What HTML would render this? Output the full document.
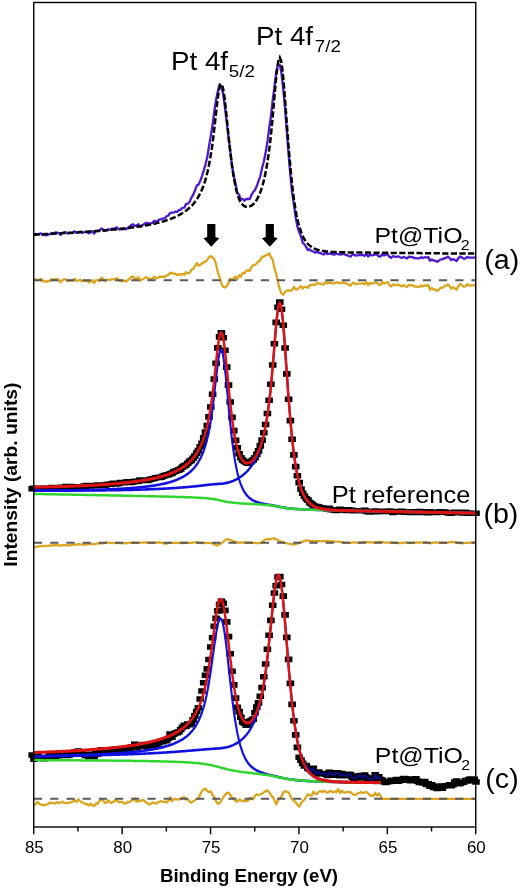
<!DOCTYPE html>
<html lang="en"><head><meta charset="utf-8"><title>Pt 4f XPS spectra</title>
<style>html,body{margin:0;padding:0;background:#fff}body{width:520px;height:889px;overflow:hidden}svg text{white-space:pre}</style>
</head><body>
<svg width="520" height="889" viewBox="0 0 520 889" style="display:block">
<rect width="520" height="889" fill="#fff"/>
<path d="M34.0,234.3 L35.8,234.0 L37.5,234.7 L39.3,233.8 L41.1,233.3 L42.8,235.2 L44.6,234.4 L46.4,235.4 L48.1,234.4 L49.9,234.4 L51.7,232.8 L53.4,233.7 L55.2,232.5 L57.0,232.7 L58.8,233.1 L60.5,235.0 L62.3,233.0 L64.1,232.4 L65.8,232.2 L67.6,233.7 L69.4,232.8 L71.1,233.1 L72.9,232.8 L74.7,231.2 L76.4,233.0 L78.2,232.4 L80.0,231.7 L81.7,232.9 L83.5,232.3 L85.3,232.1 L87.0,232.1 L88.8,233.4 L90.6,232.3 L92.3,231.1 L94.1,233.5 L95.9,230.9 L97.6,231.0 L99.4,231.2 L101.2,228.5 L103.0,229.3 L104.7,231.0 L106.5,229.9 L108.3,229.4 L110.0,229.8 L111.8,228.7 L113.6,229.0 L115.3,228.1 L117.1,227.4 L118.9,229.5 L120.6,228.9 L122.4,229.5 L124.2,228.7 L125.9,229.3 L127.7,228.0 L129.5,226.8 L131.2,225.1 L133.0,224.2 L134.8,226.0 L136.5,225.4 L138.3,224.2 L140.1,226.7 L141.8,225.3 L143.6,224.7 L145.4,223.0 L147.2,223.0 L148.9,223.5 L150.7,223.3 L152.5,222.8 L154.2,220.7 L156.0,221.8 L157.8,220.9 L159.5,219.5 L161.3,219.1 L163.1,218.4 L164.8,218.3 L166.6,216.3 L168.4,215.5 L170.1,213.0 L171.9,212.6 L173.7,212.6 L175.4,211.5 L177.2,212.0 L179.0,210.0 L180.7,209.8 L182.5,207.8 L184.3,207.7 L186.0,204.1 L187.8,203.7 L189.6,201.7 L191.4,197.6 L193.1,195.0 L194.9,190.8 L196.7,185.6 L198.4,184.8 L200.2,181.0 L202.0,176.1 L203.7,170.6 L205.5,164.6 L207.3,156.7 L209.0,146.4 L210.8,135.6 L212.6,124.8 L214.3,111.5 L216.1,99.6 L217.9,91.1 L219.6,84.3 L221.4,86.6 L223.2,94.2 L224.9,107.0 L226.7,122.1 L228.5,137.3 L230.2,150.3 L232.0,165.4 L233.8,176.1 L235.6,183.9 L237.3,192.9 L239.1,194.7 L240.9,199.6 L242.6,198.8 L244.4,200.7 L246.2,199.0 L247.9,198.8 L249.7,199.1 L251.5,194.8 L253.2,192.1 L255.0,190.0 L256.8,186.1 L258.5,181.2 L260.3,176.3 L262.1,167.9 L263.8,161.8 L265.6,152.5 L267.4,142.3 L269.1,128.7 L270.9,116.6 L272.7,100.4 L274.4,87.2 L276.2,72.5 L278.0,64.4 L279.8,64.8 L281.5,73.6 L283.3,89.7 L285.1,108.9 L286.8,131.5 L288.6,154.3 L290.4,175.7 L292.1,192.4 L293.9,204.3 L295.7,217.5 L297.4,226.6 L299.2,232.1 L301.0,236.3 L302.7,242.7 L304.5,244.5 L306.3,247.3 L308.0,250.1 L309.8,249.3 L311.6,251.0 L313.3,251.5 L315.1,252.6 L316.9,251.7 L318.6,252.9 L320.4,252.9 L322.2,254.1 L324.0,254.5 L325.7,252.4 L327.5,254.1 L329.3,253.5 L331.0,253.9 L332.8,254.4 L334.6,254.5 L336.3,253.5 L338.1,254.3 L339.9,254.4 L341.6,254.5 L343.4,253.8 L345.2,254.6 L346.9,255.1 L348.7,256.0 L350.5,256.7 L352.2,254.6 L354.0,254.6 L355.8,255.7 L357.5,255.3 L359.3,255.2 L361.1,255.0 L362.8,254.8 L364.6,255.9 L366.4,254.1 L368.2,256.5 L369.9,254.8 L371.7,255.3 L373.5,255.2 L375.2,254.3 L377.0,254.5 L378.8,256.4 L380.5,256.5 L382.3,254.1 L384.1,255.6 L385.8,254.7 L387.6,254.2 L389.4,256.8 L391.1,257.8 L392.9,256.2 L394.7,256.6 L396.4,256.8 L398.2,256.4 L400.0,257.2 L401.7,257.9 L403.5,256.9 L405.3,257.7 L407.0,258.5 L408.8,256.6 L410.6,257.2 L412.4,256.8 L414.1,258.1 L415.9,258.0 L417.7,258.4 L419.4,258.3 L421.2,257.2 L423.0,258.0 L424.7,257.2 L426.5,257.6 L428.3,257.0 L430.0,260.8 L431.8,259.4 L433.6,260.7 L435.3,260.7 L437.1,261.8 L438.9,260.7 L440.6,259.3 L442.4,259.3 L444.2,258.3 L445.9,258.0 L447.7,256.6 L449.5,257.9 L451.2,260.1 L453.0,258.9 L454.8,260.0 L456.6,261.0 L458.3,258.4 L460.1,256.5 L461.9,257.5 L463.6,258.6 L465.4,258.5 L467.2,256.8 L468.9,257.7 L470.7,257.7 L472.5,257.7 L474.2,257.7 L476.0,257.1" fill="none" stroke="#4f18d0" stroke-width="2.3" stroke-linejoin="round"/>
<path d="M33.6,234.8 L35.1,234.7 L36.5,234.6 L37.9,234.5 L39.3,234.4 L40.7,234.4 L42.1,234.3 L43.5,234.2 L45.0,234.1 L46.4,234.1 L47.8,234.0 L49.2,233.9 L50.6,233.8 L52.0,233.8 L53.4,233.7 L54.9,233.6 L56.3,233.5 L57.7,233.5 L59.1,233.4 L60.5,233.3 L61.9,233.2 L63.3,233.1 L64.8,233.1 L66.2,233.0 L67.6,232.9 L69.0,232.8 L70.4,232.7 L71.8,232.7 L73.2,232.6 L74.7,232.5 L76.1,232.4 L77.5,232.3 L78.9,232.2 L80.3,232.1 L81.7,232.0 L83.2,231.9 L84.6,231.9 L86.0,231.8 L87.4,231.7 L88.8,231.6 L90.2,231.5 L91.6,231.4 L93.1,231.3 L94.5,231.2 L95.9,231.1 L97.3,231.0 L98.7,230.8 L100.1,230.7 L101.5,230.6 L103.0,230.5 L104.4,230.4 L105.8,230.3 L107.2,230.2 L108.6,230.0 L110.0,229.9 L111.4,229.8 L112.9,229.6 L114.3,229.5 L115.7,229.4 L117.1,229.2 L118.5,229.1 L119.9,228.9 L121.3,228.8 L122.8,228.6 L124.2,228.5 L125.6,228.3 L127.0,228.1 L128.4,228.0 L129.8,227.8 L131.2,227.6 L132.7,227.4 L134.1,227.2 L135.5,227.0 L136.9,226.8 L138.3,226.6 L139.7,226.4 L141.1,226.2 L142.6,225.9 L144.0,225.7 L145.4,225.5 L146.8,225.2 L148.2,224.9 L149.6,224.7 L151.0,224.4 L152.5,224.1 L153.9,223.8 L155.3,223.5 L156.7,223.1 L158.1,222.8 L159.5,222.4 L160.9,222.0 L162.4,221.6 L163.8,221.2 L165.2,220.8 L166.6,220.3 L168.0,219.9 L169.4,219.4 L170.8,218.8 L172.3,218.3 L173.7,217.7 L175.1,217.1 L176.5,216.4 L177.9,215.7 L179.3,215.0 L180.7,214.2 L182.2,213.3 L183.6,212.4 L185.0,211.5 L186.4,210.4 L187.8,209.3 L189.2,208.0 L190.6,206.7 L192.1,205.3 L193.5,203.7 L194.9,201.9 L196.3,200.0 L197.7,197.8 L199.1,195.4 L200.5,192.6 L202.0,189.5 L203.4,186.0 L204.8,181.9 L206.2,177.1 L207.6,171.5 L209.0,165.0 L210.4,157.2 L211.9,148.0 L213.3,137.3 L214.7,125.2 L216.1,112.5 L217.5,100.3 L218.9,90.4 L220.3,84.7 L221.8,84.2 L223.2,89.0 L224.6,98.3 L226.0,110.7 L227.4,124.5 L228.8,138.4 L230.2,151.5 L231.7,163.2 L233.1,173.2 L234.5,181.6 L235.9,188.4 L237.3,193.8 L238.7,198.0 L240.1,201.2 L241.6,203.5 L243.0,205.1 L244.4,206.1 L245.8,206.7 L247.2,206.9 L248.6,206.7 L250.0,206.3 L251.5,205.6 L252.9,204.6 L254.3,203.2 L255.7,201.3 L257.1,199.1 L258.5,196.4 L260.0,193.1 L261.4,189.2 L262.8,184.5 L264.2,179.1 L265.6,172.6 L267.0,164.8 L268.4,155.6 L269.9,144.6 L271.3,131.7 L272.7,117.0 L274.1,100.9 L275.5,84.8 L276.9,70.7 L278.3,61.0 L279.8,57.5 L281.2,61.1 L282.6,71.2 L284.0,86.2 L285.4,104.2 L286.8,123.3 L288.2,141.9 L289.7,159.2 L291.1,174.6 L292.5,187.8 L293.9,198.9 L295.3,208.2 L296.7,215.9 L298.1,222.3 L299.6,227.5 L301.0,231.7 L302.4,235.2 L303.8,238.1 L305.2,240.5 L306.6,242.4 L308.0,244.1 L309.5,245.4 L310.9,246.5 L312.3,247.5 L313.7,248.3 L315.1,248.9 L316.5,249.5 L317.9,249.9 L319.4,250.3 L320.8,250.6 L322.2,250.9 L323.6,251.1 L325.0,251.3 L326.4,251.5 L327.8,251.6 L329.3,251.7 L330.7,251.8 L332.1,251.9 L333.5,252.0 L334.9,252.0 L336.3,252.1 L337.7,252.2 L339.2,252.2 L340.6,252.2 L342.0,252.3 L343.4,252.3 L344.8,252.3 L346.2,252.4 L347.6,252.4 L349.1,252.4 L350.5,252.4 L351.9,252.4 L353.3,252.5 L354.7,252.5 L356.1,252.5 L357.5,252.5 L359.0,252.5 L360.4,252.5 L361.8,252.6 L363.2,252.6 L364.6,252.6 L366.0,252.6 L367.4,252.6 L368.9,252.6 L370.3,252.7 L371.7,252.7 L373.1,252.7 L374.5,252.7 L375.9,252.7 L377.3,252.7 L378.8,252.7 L380.2,252.8 L381.6,252.8 L383.0,252.8 L384.4,252.8 L385.8,252.8 L387.2,252.8 L388.7,252.8 L390.1,252.9 L391.5,252.9 L392.9,252.9 L394.3,252.9 L395.7,252.9 L397.1,252.9 L398.6,252.9 L400.0,253.0 L401.4,253.0 L402.8,253.0 L404.2,253.0 L405.6,253.0 L407.0,253.0 L408.5,253.0 L409.9,253.1 L411.3,253.1 L412.7,253.1 L414.1,253.1 L415.5,253.1 L416.9,253.1 L418.4,253.1 L419.8,253.1 L421.2,253.2 L422.6,253.2 L424.0,253.2 L425.4,253.2 L426.8,253.2 L428.3,253.2 L429.7,253.2 L431.1,253.3 L432.5,253.3 L433.9,253.3 L435.3,253.3 L436.8,253.3 L438.2,253.3 L439.6,253.3 L441.0,253.3 L442.4,253.4 L443.8,253.4 L445.2,253.4 L446.7,253.4 L448.1,253.4 L449.5,253.4 L450.9,253.4 L452.3,253.4 L453.7,253.5 L455.1,253.5 L456.6,253.5 L458.0,253.5 L459.4,253.5 L460.8,253.5 L462.2,253.5 L463.6,253.6 L465.0,253.6 L466.5,253.6 L467.9,253.6 L469.3,253.6 L470.7,253.6 L472.1,253.6 L473.5,253.6 L474.9,253.7 L476.4,253.7" fill="none" stroke="#000" stroke-width="2.5" stroke-dasharray="6.2 2.4"/>
<path d="M34.0,279.7 L35.8,279.5 L37.5,280.4 L39.3,279.5 L41.1,278.9 L42.8,281.5 L44.6,280.6 L46.4,282.0 L48.1,280.9 L49.9,281.0 L51.7,279.0 L53.4,280.3 L55.2,278.9 L57.0,279.4 L58.8,279.9 L60.5,282.4 L62.3,280.1 L64.1,279.4 L65.8,279.3 L67.6,281.3 L69.4,280.3 L71.1,280.8 L72.9,280.6 L74.7,278.7 L76.4,281.0 L78.2,280.5 L80.0,279.7 L81.7,281.3 L83.5,280.8 L85.3,280.6 L87.0,280.8 L88.8,282.5 L90.6,281.4 L92.3,280.1 L94.1,283.1 L95.9,280.1 L97.6,280.4 L99.4,280.8 L101.2,277.6 L103.0,278.8 L104.7,281.1 L106.5,279.9 L108.3,279.5 L110.0,280.2 L111.8,279.0 L113.6,279.5 L115.3,278.7 L117.1,278.0 L118.9,280.8 L120.6,280.3 L122.4,281.3 L124.2,280.6 L125.9,281.6 L127.7,280.2 L129.5,279.0 L131.2,277.1 L133.0,276.3 L134.8,278.9 L136.5,278.4 L138.3,277.3 L140.1,280.8 L141.8,279.4 L143.6,279.0 L145.4,277.3 L147.2,277.6 L148.9,278.7 L150.7,278.8 L152.5,278.7 L154.2,276.6 L156.0,278.4 L157.8,277.8 L159.5,276.7 L161.3,276.8 L163.1,276.5 L164.8,277.1 L166.6,275.3 L168.4,275.0 L170.1,272.7 L171.9,273.0 L173.7,273.9 L175.4,273.6 L177.2,275.2 L179.0,273.9 L180.7,274.9 L182.5,273.7 L184.3,274.9 L186.0,272.1 L187.8,273.4 L189.6,272.8 L191.4,269.8 L193.1,269.0 L194.9,266.4 L196.7,263.0 L198.4,265.6 L200.2,264.9 L202.0,263.5 L203.7,262.3 L205.5,261.6 L207.3,259.9 L209.0,257.0 L210.8,256.1 L212.6,257.7 L214.3,259.2 L216.1,264.3 L217.9,272.3 L219.6,277.0 L221.4,283.8 L223.2,286.8 L224.9,287.5 L226.7,286.1 L228.5,283.2 L230.2,278.8 L232.0,279.8 L233.8,278.4 L235.6,276.6 L237.3,279.2 L239.1,275.1 L240.9,276.8 L242.6,272.9 L244.4,273.5 L246.2,270.7 L247.9,270.3 L249.7,271.1 L251.5,266.8 L253.2,265.1 L255.0,265.0 L256.8,263.3 L258.5,261.3 L260.3,260.4 L262.1,256.5 L263.8,256.9 L265.6,255.3 L267.4,254.8 L269.1,253.3 L270.9,257.2 L272.7,259.6 L274.4,268.2 L276.2,274.1 L278.0,282.2 L279.8,289.4 L281.5,293.4 L283.3,294.7 L285.1,292.0 L286.8,290.6 L288.6,290.2 L290.4,291.0 L292.1,290.0 L293.9,287.0 L295.7,289.3 L297.4,289.5 L299.2,287.7 L301.0,286.1 L302.7,288.6 L304.5,286.8 L306.3,286.9 L308.0,287.8 L309.8,284.8 L311.6,285.2 L313.3,284.6 L315.1,284.9 L316.9,283.0 L318.6,283.8 L320.4,283.3 L322.2,284.4 L324.0,284.5 L325.7,281.6 L327.5,283.5 L329.3,282.5 L331.0,282.8 L332.8,283.3 L334.6,283.4 L336.3,282.1 L338.1,283.0 L339.9,283.0 L341.6,283.1 L343.4,282.2 L345.2,283.1 L346.9,283.7 L348.7,284.8 L350.5,285.7 L352.2,283.0 L354.0,283.0 L355.8,284.4 L357.5,283.7 L359.3,283.6 L361.1,283.4 L362.8,283.1 L364.6,284.4 L366.4,282.1 L368.2,285.1 L369.9,282.9 L371.7,283.6 L373.5,283.4 L375.2,282.3 L377.0,282.5 L378.8,284.9 L380.5,285.0 L382.3,281.9 L384.1,283.8 L385.8,282.7 L387.6,282.0 L389.4,285.3 L391.1,286.5 L392.9,284.4 L394.7,284.9 L396.4,285.2 L398.2,284.7 L400.0,285.6 L401.7,286.4 L403.5,285.1 L405.3,286.2 L407.0,287.1 L408.8,284.8 L410.6,285.5 L412.4,284.9 L414.1,286.6 L415.9,286.4 L417.7,286.9 L419.4,286.8 L421.2,285.4 L423.0,286.4 L424.7,285.3 L426.5,285.8 L428.3,285.0 L430.0,289.8 L431.8,288.0 L433.6,289.6 L435.3,289.5 L437.1,290.9 L438.9,289.6 L440.6,287.8 L442.4,287.8 L444.2,286.4 L445.9,286.0 L447.7,284.3 L449.5,285.9 L451.2,288.6 L453.0,287.1 L454.8,288.5 L456.6,289.7 L458.3,286.4 L460.1,284.0 L461.9,285.2 L463.6,286.6 L465.4,286.4 L467.2,284.3 L468.9,285.4 L470.7,285.5 L472.5,285.4 L474.2,285.3 L476.0,284.6" fill="none" stroke="#dba520" stroke-width="2.3" stroke-linejoin="round"/>
<path d="M34,280.3 H476" fill="none" stroke="#595959" stroke-width="2" stroke-dasharray="8.2 8"/>
<path d="M207.20000000000002,224.0 H215.4 V237.0 L219.20000000000002,238.2 L211.3,246.8 L203.4,238.2 L207.20000000000002,237.0 Z" fill="#000"/>
<path d="M265.7,224.0 H273.90000000000003 V237.0 L277.7,238.2 L269.8,246.8 L261.90000000000003,238.2 L265.7,237.0 Z" fill="#000"/>
<path d="M28.4,486.0h7.6v5.6h-7.6zM30.2,485.4h7.6v5.6h-7.6zM32.0,486.0h7.6v5.6h-7.6zM33.7,485.9h7.6v5.6h-7.6zM35.5,485.9h7.6v5.6h-7.6zM37.3,485.8h7.6v5.6h-7.6zM39.0,485.4h7.6v5.6h-7.6zM40.8,485.5h7.6v5.6h-7.6zM42.6,485.7h7.6v5.6h-7.6zM44.3,485.6h7.6v5.6h-7.6zM46.1,485.4h7.6v5.6h-7.6zM47.9,484.8h7.6v5.6h-7.6zM49.6,485.4h7.6v5.6h-7.6zM51.4,485.6h7.6v5.6h-7.6zM53.2,485.5h7.6v5.6h-7.6zM55.0,485.1h7.6v5.6h-7.6zM56.7,484.4h7.6v5.6h-7.6zM58.5,485.1h7.6v5.6h-7.6zM60.3,484.6h7.6v5.6h-7.6zM62.0,483.8h7.6v5.6h-7.6zM63.8,484.5h7.6v5.6h-7.6zM65.6,483.9h7.6v5.6h-7.6zM67.3,483.8h7.6v5.6h-7.6zM69.1,484.0h7.6v5.6h-7.6zM70.9,484.5h7.6v5.6h-7.6zM72.6,483.9h7.6v5.6h-7.6zM74.4,484.0h7.6v5.6h-7.6zM76.2,484.5h7.6v5.6h-7.6zM77.9,484.3h7.6v5.6h-7.6zM79.7,483.6h7.6v5.6h-7.6zM81.5,483.3h7.6v5.6h-7.6zM83.2,482.8h7.6v5.6h-7.6zM85.0,482.9h7.6v5.6h-7.6zM86.8,483.1h7.6v5.6h-7.6zM88.5,483.0h7.6v5.6h-7.6zM90.3,482.8h7.6v5.6h-7.6zM92.1,482.9h7.6v5.6h-7.6zM93.8,482.2h7.6v5.6h-7.6zM95.6,482.2h7.6v5.6h-7.6zM97.4,482.4h7.6v5.6h-7.6zM99.2,482.3h7.6v5.6h-7.6zM100.9,482.3h7.6v5.6h-7.6zM102.7,481.9h7.6v5.6h-7.6zM104.5,481.5h7.6v5.6h-7.6zM106.2,481.5h7.6v5.6h-7.6zM108.0,480.9h7.6v5.6h-7.6zM109.8,480.5h7.6v5.6h-7.6zM111.5,481.1h7.6v5.6h-7.6zM113.3,480.8h7.6v5.6h-7.6zM115.1,480.6h7.6v5.6h-7.6zM116.8,479.8h7.6v5.6h-7.6zM118.6,480.0h7.6v5.6h-7.6zM120.4,479.8h7.6v5.6h-7.6zM122.1,479.5h7.6v5.6h-7.6zM123.9,478.9h7.6v5.6h-7.6zM125.7,479.3h7.6v5.6h-7.6zM127.4,479.6h7.6v5.6h-7.6zM129.2,479.2h7.6v5.6h-7.6zM131.0,478.6h7.6v5.6h-7.6zM132.7,478.6h7.6v5.6h-7.6zM134.5,478.5h7.6v5.6h-7.6zM136.3,477.2h7.6v5.6h-7.6zM138.0,477.7h7.6v5.6h-7.6zM139.8,477.7h7.6v5.6h-7.6zM141.6,477.6h7.6v5.6h-7.6zM143.4,477.6h7.6v5.6h-7.6zM145.1,477.1h7.6v5.6h-7.6zM146.9,476.4h7.6v5.6h-7.6zM148.7,476.0h7.6v5.6h-7.6zM150.4,475.7h7.6v5.6h-7.6zM152.2,474.9h7.6v5.6h-7.6zM154.0,474.7h7.6v5.6h-7.6zM155.7,474.6h7.6v5.6h-7.6zM157.5,474.4h7.6v5.6h-7.6zM159.3,473.3h7.6v5.6h-7.6zM161.0,472.7h7.6v5.6h-7.6zM162.8,472.2h7.6v5.6h-7.6zM164.6,472.0h7.6v5.6h-7.6zM166.3,471.0h7.6v5.6h-7.6zM168.1,470.6h7.6v5.6h-7.6zM169.9,469.1h7.6v5.6h-7.6zM171.6,468.5h7.6v5.6h-7.6zM173.4,467.7h7.6v5.6h-7.6zM175.2,467.1h7.6v5.6h-7.6zM176.9,466.1h7.6v5.6h-7.6zM178.7,464.2h7.6v5.6h-7.6zM180.5,463.1h7.6v5.6h-7.6zM182.2,462.2h7.6v5.6h-7.6zM184.0,460.4h7.6v5.6h-7.6zM185.8,458.6h7.6v5.6h-7.6zM187.6,457.6h7.6v5.6h-7.6zM189.3,455.5h7.6v5.6h-7.6zM191.1,453.2h7.6v5.6h-7.6zM192.9,450.3h7.6v5.6h-7.6zM194.6,447.8h7.6v5.6h-7.6zM196.4,444.0h7.6v5.6h-7.6zM198.2,440.4h7.6v5.6h-7.6zM199.9,435.0h7.6v5.6h-7.6zM201.7,429.3h7.6v5.6h-7.6zM203.5,422.8h7.6v5.6h-7.6zM205.2,414.1h7.6v5.6h-7.6zM207.0,404.2h7.6v5.6h-7.6zM208.8,391.4h7.6v5.6h-7.6zM210.5,376.3h7.6v5.6h-7.6zM212.3,360.4h7.6v5.6h-7.6zM214.1,345.1h7.6v5.6h-7.6zM215.8,334.1h7.6v5.6h-7.6zM217.6,329.9h7.6v5.6h-7.6zM219.4,334.9h7.6v5.6h-7.6zM221.1,347.5h7.6v5.6h-7.6zM222.9,364.3h7.6v5.6h-7.6zM224.7,382.3h7.6v5.6h-7.6zM226.4,399.2h7.6v5.6h-7.6zM228.2,414.6h7.6v5.6h-7.6zM230.0,427.8h7.6v5.6h-7.6zM231.8,437.4h7.6v5.6h-7.6zM233.5,444.9h7.6v5.6h-7.6zM235.3,450.9h7.6v5.6h-7.6zM237.1,455.0h7.6v5.6h-7.6zM238.8,457.3h7.6v5.6h-7.6zM240.6,458.7h7.6v5.6h-7.6zM242.4,459.7h7.6v5.6h-7.6zM244.1,460.5h7.6v5.6h-7.6zM245.9,459.6h7.6v5.6h-7.6zM247.7,458.6h7.6v5.6h-7.6zM249.4,457.1h7.6v5.6h-7.6zM251.2,454.9h7.6v5.6h-7.6zM253.0,451.6h7.6v5.6h-7.6zM254.7,448.1h7.6v5.6h-7.6zM256.5,443.1h7.6v5.6h-7.6zM258.3,437.3h7.6v5.6h-7.6zM260.0,429.9h7.6v5.6h-7.6zM261.8,421.7h7.6v5.6h-7.6zM263.6,410.7h7.6v5.6h-7.6zM265.3,397.4h7.6v5.6h-7.6zM267.1,381.4h7.6v5.6h-7.6zM268.9,362.2h7.6v5.6h-7.6zM270.6,340.9h7.6v5.6h-7.6zM272.4,319.6h7.6v5.6h-7.6zM274.2,304.4h7.6v5.6h-7.6zM276.0,299.3h7.6v5.6h-7.6zM277.7,306.5h7.6v5.6h-7.6zM279.5,322.5h7.6v5.6h-7.6zM281.3,345.2h7.6v5.6h-7.6zM283.0,371.1h7.6v5.6h-7.6zM284.8,396.4h7.6v5.6h-7.6zM286.6,417.8h7.6v5.6h-7.6zM288.3,436.4h7.6v5.6h-7.6zM290.1,452.1h7.6v5.6h-7.6zM291.9,463.8h7.6v5.6h-7.6zM293.6,473.0h7.6v5.6h-7.6zM295.4,479.8h7.6v5.6h-7.6zM297.2,486.2h7.6v5.6h-7.6zM298.9,490.5h7.6v5.6h-7.6zM300.7,493.5h7.6v5.6h-7.6zM302.5,495.9h7.6v5.6h-7.6zM304.2,497.3h7.6v5.6h-7.6zM306.0,499.8h7.6v5.6h-7.6zM307.8,501.1h7.6v5.6h-7.6zM309.5,502.4h7.6v5.6h-7.6zM311.3,503.4h7.6v5.6h-7.6zM313.1,503.7h7.6v5.6h-7.6zM314.8,503.9h7.6v5.6h-7.6zM316.6,505.0h7.6v5.6h-7.6zM318.4,505.1h7.6v5.6h-7.6zM320.2,505.5h7.6v5.6h-7.6zM321.9,505.7h7.6v5.6h-7.6zM323.7,505.9h7.6v5.6h-7.6zM325.5,505.6h7.6v5.6h-7.6zM327.2,506.9h7.6v5.6h-7.6zM329.0,506.9h7.6v5.6h-7.6zM330.8,507.4h7.6v5.6h-7.6zM332.5,507.7h7.6v5.6h-7.6zM334.3,507.2h7.6v5.6h-7.6zM336.1,506.6h7.6v5.6h-7.6zM337.8,506.9h7.6v5.6h-7.6zM339.6,507.0h7.6v5.6h-7.6zM341.4,507.3h7.6v5.6h-7.6zM343.1,507.6h7.6v5.6h-7.6zM344.9,507.0h7.6v5.6h-7.6zM346.7,507.7h7.6v5.6h-7.6zM348.4,507.4h7.6v5.6h-7.6zM350.2,507.9h7.6v5.6h-7.6zM352.0,507.9h7.6v5.6h-7.6zM353.7,507.9h7.6v5.6h-7.6zM355.5,508.0h7.6v5.6h-7.6zM357.3,507.9h7.6v5.6h-7.6zM359.0,507.9h7.6v5.6h-7.6zM360.8,507.6h7.6v5.6h-7.6zM362.6,508.3h7.6v5.6h-7.6zM364.4,509.0h7.6v5.6h-7.6zM366.1,509.2h7.6v5.6h-7.6zM367.9,509.0h7.6v5.6h-7.6zM369.7,508.7h7.6v5.6h-7.6zM371.4,508.3h7.6v5.6h-7.6zM373.2,508.9h7.6v5.6h-7.6zM375.0,508.6h7.6v5.6h-7.6zM376.7,508.5h7.6v5.6h-7.6zM378.5,508.5h7.6v5.6h-7.6zM380.3,508.6h7.6v5.6h-7.6zM382.0,508.5h7.6v5.6h-7.6zM383.8,508.6h7.6v5.6h-7.6zM385.6,508.3h7.6v5.6h-7.6zM387.3,508.7h7.6v5.6h-7.6zM389.1,509.6h7.6v5.6h-7.6zM390.9,508.9h7.6v5.6h-7.6zM392.6,508.8h7.6v5.6h-7.6zM394.4,509.1h7.6v5.6h-7.6zM396.2,509.1h7.6v5.6h-7.6zM397.9,508.6h7.6v5.6h-7.6zM399.7,508.9h7.6v5.6h-7.6zM401.5,509.4h7.6v5.6h-7.6zM403.2,509.2h7.6v5.6h-7.6zM405.0,509.2h7.6v5.6h-7.6zM406.8,509.6h7.6v5.6h-7.6zM408.6,509.0h7.6v5.6h-7.6zM410.3,509.2h7.6v5.6h-7.6zM412.1,509.1h7.6v5.6h-7.6zM413.9,509.7h7.6v5.6h-7.6zM415.6,508.7h7.6v5.6h-7.6zM417.4,509.0h7.6v5.6h-7.6zM419.2,509.2h7.6v5.6h-7.6zM420.9,509.6h7.6v5.6h-7.6zM422.7,509.7h7.6v5.6h-7.6zM424.5,509.9h7.6v5.6h-7.6zM426.2,509.1h7.6v5.6h-7.6zM428.0,509.7h7.6v5.6h-7.6zM429.8,509.5h7.6v5.6h-7.6zM431.5,509.4h7.6v5.6h-7.6zM433.3,509.7h7.6v5.6h-7.6zM435.1,509.3h7.6v5.6h-7.6zM436.8,508.9h7.6v5.6h-7.6zM438.6,509.4h7.6v5.6h-7.6zM440.4,509.2h7.6v5.6h-7.6zM442.1,509.5h7.6v5.6h-7.6zM443.9,509.9h7.6v5.6h-7.6zM445.7,510.1h7.6v5.6h-7.6zM447.4,510.4h7.6v5.6h-7.6zM449.2,509.9h7.6v5.6h-7.6zM451.0,509.4h7.6v5.6h-7.6zM452.8,509.6h7.6v5.6h-7.6zM454.5,509.6h7.6v5.6h-7.6zM456.3,509.6h7.6v5.6h-7.6zM458.1,510.2h7.6v5.6h-7.6zM459.8,509.8h7.6v5.6h-7.6zM461.6,509.5h7.6v5.6h-7.6zM463.4,510.3h7.6v5.6h-7.6zM465.1,510.2h7.6v5.6h-7.6zM466.9,510.4h7.6v5.6h-7.6zM468.7,510.4h7.6v5.6h-7.6zM470.4,510.5h7.6v5.6h-7.6zM472.2,510.5h7.6v5.6h-7.6z" fill="#000"/>
<g transform="scale(1,1.25)" fill="none" stroke-linejoin="round">
<path d="M33.6,392.45 L34.7,392.45 L35.8,392.45 L36.8,392.45 L37.9,392.46 L39.0,392.46 L40.0,392.46 L41.1,392.46 L42.1,392.46 L43.2,392.47 L44.3,392.47 L45.3,392.47 L46.4,392.47 L47.4,392.47 L48.5,392.47 L49.6,392.47 L50.6,392.47 L51.7,392.47 L52.7,392.47 L53.8,392.47 L54.9,392.47 L55.9,392.47 L57.0,392.47 L58.0,392.47 L59.1,392.47 L60.2,392.47 L61.2,392.47 L62.3,392.47 L63.3,392.47 L64.4,392.47 L65.5,392.46 L66.5,392.46 L67.6,392.46 L68.7,392.46 L69.7,392.46 L70.8,392.45 L71.8,392.45 L72.9,392.45 L74.0,392.45 L75.0,392.44 L76.1,392.44 L77.1,392.44 L78.2,392.43 L79.3,392.43 L80.3,392.42 L81.4,392.42 L82.4,392.41 L83.5,392.41 L84.6,392.40 L85.6,392.40 L86.7,392.39 L87.7,392.39 L88.8,392.38 L89.9,392.37 L90.9,392.37 L92.0,392.36 L93.1,392.35 L94.1,392.35 L95.2,392.34 L96.2,392.33 L97.3,392.32 L98.4,392.31 L99.4,392.31 L100.5,392.30 L101.5,392.29 L102.6,392.28 L103.7,392.27 L104.7,392.26 L105.8,392.25 L106.8,392.24 L107.9,392.22 L109.0,392.21 L110.0,392.20 L111.1,392.19 L112.1,392.18 L113.2,392.16 L114.3,392.15 L115.3,392.14 L116.4,392.12 L117.4,392.11 L118.5,392.09 L119.6,392.08 L120.6,392.06 L121.7,392.04 L122.8,392.03 L123.8,392.01 L124.9,391.99 L125.9,391.98 L127.0,391.96 L128.1,391.94 L129.1,391.92 L130.2,391.90 L131.2,391.88 L132.3,391.86 L133.4,391.84 L134.4,391.81 L135.5,391.79 L136.5,391.77 L137.6,391.74 L138.7,391.72 L139.7,391.70 L140.8,391.67 L141.8,391.64 L142.9,391.62 L144.0,391.59 L145.0,391.56 L146.1,391.53 L147.2,391.50 L148.2,391.47 L149.3,391.44 L150.3,391.41 L151.4,391.38 L152.5,391.34 L153.5,391.31 L154.6,391.27 L155.6,391.24 L156.7,391.20 L157.8,391.16 L158.8,391.12 L159.9,391.08 L160.9,391.04 L162.0,391.00 L163.1,390.96 L164.1,390.92 L165.2,390.87 L166.2,390.83 L167.3,390.78 L168.4,390.73 L169.4,390.68 L170.5,390.63 L171.6,390.58 L172.6,390.53 L173.7,390.47 L174.7,390.42 L175.8,390.36 L176.9,390.30 L177.9,390.24 L179.0,390.18 L180.0,390.12 L181.1,390.05 L182.2,389.99 L183.2,389.92 L184.3,389.85 L185.3,389.78 L186.4,389.71 L187.5,389.63 L188.5,389.56 L189.6,389.48 L190.6,389.40 L191.7,389.32 L192.8,389.24 L193.8,389.16 L194.9,389.07 L195.9,388.98 L197.0,388.89 L198.1,388.80 L199.1,388.71 L200.2,388.61 L201.3,388.52 L202.3,388.42 L203.4,388.33 L204.4,388.23 L205.5,388.13 L206.6,388.03 L207.6,387.93 L208.7,387.84 L209.7,387.74 L210.8,387.65 L211.9,387.56 L212.9,387.48 L214.0,387.40 L215.0,387.33 L216.1,387.26 L217.2,387.20 L218.2,387.14 L219.3,387.08 L220.3,387.02 L221.4,386.95 L222.5,386.87 L223.5,386.77 L224.6,386.65 L225.7,386.50 L226.7,386.33 L227.8,386.13 L228.8,385.90 L229.9,385.64 L231.0,385.36 L232.0,385.05 L233.1,384.71 L234.1,384.35 L235.2,383.95 L236.3,383.53 L237.3,383.07 L238.4,382.58 L239.4,382.06 L240.5,381.50 L241.6,380.91 L242.6,380.27 L243.7,379.59 L244.7,378.86 L245.8,378.08 L246.9,377.25 L247.9,376.35 L249.0,375.39 L250.0,374.35 L251.1,373.22 L252.2,372.01 L253.2,370.69 L254.3,369.27 L255.4,367.71 L256.4,366.00 L257.5,364.14 L258.5,362.08 L259.6,359.82 L260.7,357.30 L261.7,354.51 L262.8,351.38 L263.8,347.87 L264.9,343.92 L266.0,339.45 L267.0,334.37 L268.1,328.58 L269.1,322.00 L270.2,314.54 L271.3,306.13 L272.3,296.82 L273.4,286.76 L274.4,276.29 L275.5,265.99 L276.6,256.63 L277.6,249.08 L278.7,244.17 L279.8,242.47 L280.8,244.21 L281.9,249.23 L282.9,257.06 L284.0,267.04 L285.1,278.44 L286.1,290.55 L287.2,302.78 L288.2,314.64 L289.3,325.80 L290.4,336.05 L291.4,345.30 L292.5,353.52 L293.5,360.77 L294.6,367.09 L295.7,372.59 L296.7,377.35 L297.8,381.46 L298.8,385.01 L299.9,388.07 L301.0,390.71 L302.0,392.99 L303.1,394.96 L304.2,396.67 L305.2,398.15 L306.3,399.43 L307.3,400.54 L308.4,401.51 L309.5,402.35 L310.5,403.09 L311.6,403.73 L312.6,404.29 L313.7,404.78 L314.8,405.21 L315.8,405.59 L316.9,405.92 L317.9,406.21 L319.0,406.46 L320.1,406.69 L321.1,406.89 L322.2,407.06 L323.2,407.22 L324.3,407.36 L325.4,407.48 L326.4,407.59 L327.5,407.68 L328.5,407.77 L329.6,407.85 L330.7,407.92 L331.7,407.98 L332.8,408.04 L333.9,408.09 L334.9,408.14 L336.0,408.18 L337.0,408.22 L338.1,408.26 L339.2,408.29 L340.2,408.33 L341.3,408.36 L342.3,408.38 L343.4,408.41 L344.5,408.44 L345.5,408.46 L346.6,408.49 L347.6,408.51 L348.7,408.53 L349.8,408.55 L350.8,408.57 L351.9,408.59 L352.9,408.62 L354.0,408.63 L355.1,408.65 L356.1,408.67 L357.2,408.69 L358.3,408.71 L359.3,408.73 L360.4,408.75 L361.4,408.77 L362.5,408.78 L363.6,408.80 L364.6,408.82 L365.7,408.84 L366.7,408.86 L367.8,408.87 L368.9,408.89 L369.9,408.91 L371.0,408.93 L372.0,408.94 L373.1,408.96 L374.2,408.98 L375.2,408.99 L376.3,409.01 L377.3,409.03 L378.4,409.05 L379.5,409.06 L380.5,409.08 L381.6,409.10 L382.6,409.11 L383.7,409.13 L384.8,409.15 L385.8,409.16 L386.9,409.18 L388.0,409.20 L389.0,409.21 L390.1,409.23 L391.1,409.25 L392.2,409.26 L393.3,409.28 L394.3,409.30 L395.4,409.31 L396.4,409.33 L397.5,409.35 L398.6,409.36 L399.6,409.38 L400.7,409.39 L401.7,409.41 L402.8,409.43 L403.9,409.44 L404.9,409.46 L406.0,409.48 L407.0,409.49 L408.1,409.51 L409.2,409.53 L410.2,409.54 L411.3,409.56 L412.4,409.57 L413.4,409.59 L414.5,409.61 L415.5,409.62 L416.6,409.64 L417.7,409.65 L418.7,409.67 L419.8,409.69 L420.8,409.70 L421.9,409.72 L423.0,409.73 L424.0,409.75 L425.1,409.77 L426.1,409.78 L427.2,409.80 L428.3,409.81 L429.3,409.83 L430.4,409.85 L431.4,409.86 L432.5,409.88 L433.6,409.89 L434.6,409.91 L435.7,409.93 L436.8,409.94 L437.8,409.96 L438.9,409.97 L439.9,409.99 L441.0,410.00 L442.1,410.02 L443.1,410.04 L444.2,410.05 L445.2,410.07 L446.3,410.08 L447.4,410.10 L448.4,410.11 L449.5,410.13 L450.5,410.15 L451.6,410.16 L452.7,410.18 L453.7,410.19 L454.8,410.21 L455.8,410.22 L456.9,410.24 L458.0,410.26 L459.0,410.27 L460.1,410.29 L461.1,410.30 L462.2,410.32 L463.3,410.33 L464.3,410.35 L465.4,410.37 L466.5,410.38 L467.5,410.40 L468.6,410.41 L469.6,410.43 L470.7,410.44 L471.8,410.46 L472.8,410.47 L473.9,410.49 L474.9,410.51 L476.0,410.52" stroke="#1010e0" stroke-width="2.1"/>
<path d="M33.6,392.43 L34.7,392.43 L35.8,392.43 L36.8,392.43 L37.9,392.42 L39.0,392.42 L40.0,392.42 L41.1,392.41 L42.1,392.41 L43.2,392.41 L44.3,392.40 L45.3,392.40 L46.4,392.40 L47.4,392.39 L48.5,392.39 L49.6,392.38 L50.6,392.38 L51.7,392.37 L52.7,392.36 L53.8,392.36 L54.9,392.35 L55.9,392.35 L57.0,392.34 L58.0,392.33 L59.1,392.32 L60.2,392.32 L61.2,392.31 L62.3,392.30 L63.3,392.29 L64.4,392.28 L65.5,392.27 L66.5,392.26 L67.6,392.25 L68.7,392.24 L69.7,392.23 L70.8,392.22 L71.8,392.21 L72.9,392.19 L74.0,392.18 L75.0,392.17 L76.1,392.15 L77.1,392.14 L78.2,392.13 L79.3,392.11 L80.3,392.10 L81.4,392.08 L82.4,392.06 L83.5,392.05 L84.6,392.03 L85.6,392.01 L86.7,391.99 L87.7,391.97 L88.8,391.95 L89.9,391.93 L90.9,391.91 L92.0,391.89 L93.1,391.87 L94.1,391.85 L95.2,391.82 L96.2,391.80 L97.3,391.77 L98.4,391.75 L99.4,391.72 L100.5,391.69 L101.5,391.67 L102.6,391.64 L103.7,391.61 L104.7,391.58 L105.8,391.54 L106.8,391.51 L107.9,391.48 L109.0,391.45 L110.0,391.41 L111.1,391.37 L112.1,391.34 L113.2,391.30 L114.3,391.26 L115.3,391.22 L116.4,391.18 L117.4,391.13 L118.5,391.09 L119.6,391.04 L120.6,390.99 L121.7,390.95 L122.8,390.90 L123.8,390.84 L124.9,390.79 L125.9,390.74 L127.0,390.68 L128.1,390.62 L129.1,390.56 L130.2,390.50 L131.2,390.44 L132.3,390.37 L133.4,390.30 L134.4,390.23 L135.5,390.16 L136.5,390.09 L137.6,390.01 L138.7,389.93 L139.7,389.85 L140.8,389.76 L141.8,389.68 L142.9,389.59 L144.0,389.49 L145.0,389.40 L146.1,389.29 L147.2,389.19 L148.2,389.08 L149.3,388.97 L150.3,388.86 L151.4,388.74 L152.5,388.61 L153.5,388.49 L154.6,388.35 L155.6,388.21 L156.7,388.07 L157.8,387.92 L158.8,387.77 L159.9,387.60 L160.9,387.44 L162.0,387.26 L163.1,387.08 L164.1,386.89 L165.2,386.69 L166.2,386.48 L167.3,386.27 L168.4,386.04 L169.4,385.80 L170.5,385.55 L171.6,385.29 L172.6,385.02 L173.7,384.74 L174.7,384.44 L175.8,384.12 L176.9,383.79 L177.9,383.44 L179.0,383.07 L180.0,382.68 L181.1,382.26 L182.2,381.83 L183.2,381.36 L184.3,380.87 L185.3,380.34 L186.4,379.79 L187.5,379.19 L188.5,378.55 L189.6,377.87 L190.6,377.14 L191.7,376.35 L192.8,375.50 L193.8,374.58 L194.9,373.59 L195.9,372.51 L197.0,371.33 L198.1,370.04 L199.1,368.63 L200.2,367.07 L201.3,365.35 L202.3,363.45 L203.4,361.32 L204.4,358.95 L205.5,356.28 L206.6,353.27 L207.6,349.85 L208.7,345.98 L209.7,341.56 L210.8,336.54 L211.9,330.85 L212.9,324.46 L214.0,317.44 L215.0,309.91 L216.1,302.20 L217.2,294.76 L218.2,288.20 L219.3,283.18 L220.3,280.25 L221.4,279.79 L222.5,281.86 L223.5,286.29 L224.6,292.66 L225.7,300.47 L226.7,309.18 L227.8,318.28 L228.8,327.34 L229.9,336.05 L231.0,344.18 L232.0,351.61 L233.1,358.28 L234.1,364.20 L235.2,369.40 L236.3,373.94 L237.3,377.87 L238.4,381.28 L239.4,384.23 L240.5,386.78 L241.6,388.98 L242.6,390.88 L243.7,392.52 L244.7,393.95 L245.8,395.18 L246.9,396.26 L247.9,397.19 L249.0,398.01 L250.0,398.72 L251.1,399.34 L252.2,399.89 L253.2,400.38 L254.3,400.80 L255.4,401.18 L256.4,401.51 L257.5,401.81 L258.5,402.08 L259.6,402.32 L260.7,402.54 L261.7,402.74 L262.8,402.92 L263.8,403.09 L264.9,403.25 L266.0,403.41 L267.0,403.55 L268.1,403.69 L269.1,403.84 L270.2,403.98 L271.3,404.12 L272.3,404.27 L273.4,404.42 L274.4,404.58 L275.5,404.75 L276.6,404.92 L277.6,405.10 L278.7,405.28 L279.8,405.47 L280.8,405.65 L281.9,405.82 L282.9,405.99 L284.0,406.14 L285.1,406.28 L286.1,406.42 L287.2,406.53 L288.2,406.64 L289.3,406.74 L290.4,406.83 L291.4,406.91 L292.5,406.99 L293.5,407.06 L294.6,407.12 L295.7,407.18 L296.7,407.24 L297.8,407.29 L298.8,407.34 L299.9,407.38 L301.0,407.43 L302.0,407.47 L303.1,407.51 L304.2,407.55 L305.2,407.58 L306.3,407.62 L307.3,407.65 L308.4,407.68 L309.5,407.71 L310.5,407.74 L311.6,407.77 L312.6,407.80 L313.7,407.83 L314.8,407.86 L315.8,407.88 L316.9,407.91 L317.9,407.94 L319.0,407.96 L320.1,407.99 L321.1,408.01 L322.2,408.03 L323.2,408.06 L324.3,408.08 L325.4,408.10 L326.4,408.13 L327.5,408.15 L328.5,408.17 L329.6,408.19 L330.7,408.21 L331.7,408.23 L332.8,408.25 L333.9,408.28 L334.9,408.30 L336.0,408.32 L337.0,408.34 L338.1,408.36 L339.2,408.38 L340.2,408.40 L341.3,408.42 L342.3,408.44 L343.4,408.45 L344.5,408.47 L345.5,408.49 L346.6,408.51 L347.6,408.53 L348.7,408.55 L349.8,408.57 L350.8,408.59 L351.9,408.61 L352.9,408.62 L354.0,408.64 L355.1,408.66 L356.1,408.68 L357.2,408.70 L358.3,408.71 L359.3,408.73 L360.4,408.75 L361.4,408.77 L362.5,408.79 L363.6,408.80 L364.6,408.82 L365.7,408.84 L366.7,408.86 L367.8,408.87 L368.9,408.89 L369.9,408.91 L371.0,408.93 L372.0,408.94 L373.1,408.96 L374.2,408.98 L375.2,408.99 L376.3,409.01 L377.3,409.03 L378.4,409.05 L379.5,409.06 L380.5,409.08 L381.6,409.10 L382.6,409.11 L383.7,409.13 L384.8,409.15 L385.8,409.16 L386.9,409.18 L388.0,409.20 L389.0,409.21 L390.1,409.23 L391.1,409.25 L392.2,409.26 L393.3,409.28 L394.3,409.30 L395.4,409.31 L396.4,409.33 L397.5,409.35 L398.6,409.36 L399.6,409.38 L400.7,409.39 L401.7,409.41 L402.8,409.43 L403.9,409.44 L404.9,409.46 L406.0,409.48 L407.0,409.49 L408.1,409.51 L409.2,409.53 L410.2,409.54 L411.3,409.56 L412.4,409.57 L413.4,409.59 L414.5,409.61 L415.5,409.62 L416.6,409.64 L417.7,409.65 L418.7,409.67 L419.8,409.69 L420.8,409.70 L421.9,409.72 L423.0,409.73 L424.0,409.75 L425.1,409.77 L426.1,409.78 L427.2,409.80 L428.3,409.81 L429.3,409.83 L430.4,409.85 L431.4,409.86 L432.5,409.88 L433.6,409.89 L434.6,409.91 L435.7,409.93 L436.8,409.94 L437.8,409.96 L438.9,409.97 L439.9,409.99 L441.0,410.00 L442.1,410.02 L443.1,410.04 L444.2,410.05 L445.2,410.07 L446.3,410.08 L447.4,410.10 L448.4,410.11 L449.5,410.13 L450.5,410.15 L451.6,410.16 L452.7,410.18 L453.7,410.19 L454.8,410.21 L455.8,410.22 L456.9,410.24 L458.0,410.26 L459.0,410.27 L460.1,410.29 L461.1,410.30 L462.2,410.32 L463.3,410.33 L464.3,410.35 L465.4,410.37 L466.5,410.38 L467.5,410.40 L468.6,410.41 L469.6,410.43 L470.7,410.44 L471.8,410.46 L472.8,410.47 L473.9,410.49 L474.9,410.51 L476.0,410.52" stroke="#1010e0" stroke-width="2.1"/>
<path d="M33.6,395.16 L35.1,395.18 L36.5,395.20 L37.9,395.22 L39.3,395.24 L40.7,395.26 L42.1,395.28 L43.5,395.30 L45.0,395.32 L46.4,395.35 L47.8,395.37 L49.2,395.39 L50.6,395.41 L52.0,395.43 L53.4,395.45 L54.9,395.47 L56.3,395.49 L57.7,395.51 L59.1,395.53 L60.5,395.56 L61.9,395.58 L63.3,395.60 L64.8,395.62 L66.2,395.64 L67.6,395.66 L69.0,395.68 L70.4,395.70 L71.8,395.73 L73.2,395.75 L74.7,395.77 L76.1,395.79 L77.5,395.81 L78.9,395.83 L80.3,395.85 L81.7,395.88 L83.2,395.90 L84.6,395.92 L86.0,395.94 L87.4,395.96 L88.8,395.98 L90.2,396.01 L91.6,396.03 L93.1,396.05 L94.5,396.07 L95.9,396.09 L97.3,396.11 L98.7,396.14 L100.1,396.16 L101.5,396.18 L103.0,396.20 L104.4,396.22 L105.8,396.25 L107.2,396.27 L108.6,396.29 L110.0,396.31 L111.4,396.34 L112.9,396.36 L114.3,396.38 L115.7,396.40 L117.1,396.43 L118.5,396.45 L119.9,396.47 L121.3,396.49 L122.8,396.52 L124.2,396.54 L125.6,396.56 L127.0,396.59 L128.4,396.61 L129.8,396.63 L131.2,396.66 L132.7,396.68 L134.1,396.70 L135.5,396.73 L136.9,396.75 L138.3,396.77 L139.7,396.80 L141.1,396.82 L142.6,396.85 L144.0,396.87 L145.4,396.90 L146.8,396.92 L148.2,396.95 L149.6,396.97 L151.0,397.00 L152.5,397.02 L153.9,397.05 L155.3,397.07 L156.7,397.10 L158.1,397.13 L159.5,397.15 L160.9,397.18 L162.4,397.21 L163.8,397.23 L165.2,397.26 L166.6,397.29 L168.0,397.32 L169.4,397.35 L170.8,397.38 L172.3,397.41 L173.7,397.44 L175.1,397.47 L176.5,397.50 L177.9,397.53 L179.3,397.57 L180.7,397.60 L182.2,397.64 L183.6,397.67 L185.0,397.71 L186.4,397.75 L187.8,397.79 L189.2,397.83 L190.6,397.87 L192.1,397.92 L193.5,397.97 L194.9,398.02 L196.3,398.07 L197.7,398.12 L199.1,398.18 L200.5,398.25 L202.0,398.32 L203.4,398.39 L204.8,398.48 L206.2,398.57 L207.6,398.67 L209.0,398.78 L210.4,398.91 L211.9,399.05 L213.3,399.21 L214.7,399.40 L216.1,399.61 L217.5,399.84 L218.9,400.09 L220.3,400.36 L221.8,400.62 L223.2,400.89 L224.6,401.13 L226.0,401.36 L227.4,401.56 L228.8,401.74 L230.2,401.90 L231.7,402.04 L233.1,402.16 L234.5,402.28 L235.9,402.38 L237.3,402.47 L238.7,402.56 L240.1,402.64 L241.6,402.72 L243.0,402.79 L244.4,402.86 L245.8,402.92 L247.2,402.99 L248.6,403.05 L250.0,403.11 L251.5,403.18 L252.9,403.24 L254.3,403.30 L255.7,403.36 L257.1,403.43 L258.5,403.50 L260.0,403.57 L261.4,403.64 L262.8,403.72 L264.2,403.80 L265.6,403.90 L267.0,404.00 L268.4,404.11 L269.9,404.23 L271.3,404.36 L272.7,404.52 L274.1,404.69 L275.5,404.88 L276.9,405.09 L278.3,405.31 L279.8,405.54 L281.2,405.76 L282.6,405.98 L284.0,406.18 L285.4,406.36 L286.8,406.52 L288.2,406.66 L289.7,406.79 L291.1,406.90 L292.5,407.00 L293.9,407.09 L295.3,407.17 L296.7,407.24 L298.1,407.31 L299.6,407.37 L301.0,407.43 L302.4,407.48 L303.8,407.53 L305.2,407.58 L306.6,407.63 L308.0,407.67 L309.5,407.71 L310.9,407.75 L312.3,407.79 L313.7,407.83 L315.1,407.87 L316.5,407.90 L317.9,407.94 L319.4,407.97 L320.8,408.00 L322.2,408.03 L323.6,408.06 L325.0,408.10 L326.4,408.13 L327.8,408.15 L329.3,408.18 L330.7,408.21 L332.1,408.24 L333.5,408.27 L334.9,408.30 L336.3,408.32 L337.7,408.35 L339.2,408.38 L340.6,408.40 L342.0,408.43 L343.4,408.45 L344.8,408.48 L346.2,408.51 L347.6,408.53 L349.1,408.56 L350.5,408.58 L351.9,408.61 L353.3,408.63 L354.7,408.65 L356.1,408.68 L357.5,408.70 L359.0,408.73 L360.4,408.75 L361.8,408.77 L363.2,408.80 L364.6,408.82 L366.0,408.84 L367.4,408.87 L368.9,408.89 L370.3,408.91 L371.7,408.94 L373.1,408.96 L374.5,408.98 L375.9,409.01 L377.3,409.03 L378.8,409.05 L380.2,409.07 L381.6,409.10 L383.0,409.12 L384.4,409.14 L385.8,409.16 L387.2,409.19 L388.7,409.21 L390.1,409.23 L391.5,409.25 L392.9,409.27 L394.3,409.30 L395.7,409.32 L397.1,409.34 L398.6,409.36 L400.0,409.38 L401.4,409.41 L402.8,409.43 L404.2,409.45 L405.6,409.47 L407.0,409.49 L408.5,409.51 L409.9,409.54 L411.3,409.56 L412.7,409.58 L414.1,409.60 L415.5,409.62 L416.9,409.64 L418.4,409.66 L419.8,409.69 L421.2,409.71 L422.6,409.73 L424.0,409.75 L425.4,409.77 L426.8,409.79 L428.3,409.81 L429.7,409.84 L431.1,409.86 L432.5,409.88 L433.9,409.90 L435.3,409.92 L436.8,409.94 L438.2,409.96 L439.6,409.98 L441.0,410.00 L442.4,410.03 L443.8,410.05 L445.2,410.07 L446.7,410.09 L448.1,410.11 L449.5,410.13 L450.9,410.15 L452.3,410.17 L453.7,410.19 L455.1,410.21 L456.6,410.24 L458.0,410.26 L459.4,410.28 L460.8,410.30 L462.2,410.32 L463.6,410.34 L465.0,410.36 L466.5,410.38 L467.9,410.40 L469.3,410.42 L470.7,410.44 L472.1,410.46 L473.5,410.48 L474.9,410.51 L476.4,410.53" stroke="#2fd62f" stroke-width="2.0"/>
<path d="M33.6,389.72 L34.4,389.71 L35.1,389.70 L35.8,389.69 L36.5,389.68 L37.2,389.67 L37.9,389.66 L38.6,389.65 L39.3,389.64 L40.0,389.63 L40.7,389.62 L41.4,389.60 L42.1,389.59 L42.8,389.58 L43.5,389.57 L44.3,389.56 L45.0,389.54 L45.7,389.53 L46.4,389.52 L47.1,389.51 L47.8,389.49 L48.5,389.48 L49.2,389.47 L49.9,389.45 L50.6,389.44 L51.3,389.43 L52.0,389.41 L52.7,389.40 L53.4,389.38 L54.2,389.37 L54.9,389.35 L55.6,389.34 L56.3,389.32 L57.0,389.31 L57.7,389.29 L58.4,389.28 L59.1,389.26 L59.8,389.24 L60.5,389.23 L61.2,389.21 L61.9,389.19 L62.6,389.18 L63.3,389.16 L64.1,389.14 L64.8,389.12 L65.5,389.11 L66.2,389.09 L66.9,389.07 L67.6,389.05 L68.3,389.03 L69.0,389.01 L69.7,388.99 L70.4,388.97 L71.1,388.95 L71.8,388.93 L72.5,388.91 L73.2,388.89 L74.0,388.87 L74.7,388.85 L75.4,388.83 L76.1,388.80 L76.8,388.78 L77.5,388.76 L78.2,388.74 L78.9,388.71 L79.6,388.69 L80.3,388.66 L81.0,388.64 L81.7,388.62 L82.4,388.59 L83.2,388.57 L83.9,388.54 L84.6,388.51 L85.3,388.49 L86.0,388.46 L86.7,388.43 L87.4,388.41 L88.1,388.38 L88.8,388.35 L89.5,388.32 L90.2,388.29 L90.9,388.26 L91.6,388.23 L92.3,388.20 L93.1,388.17 L93.8,388.14 L94.5,388.11 L95.2,388.08 L95.9,388.05 L96.6,388.01 L97.3,387.98 L98.0,387.95 L98.7,387.91 L99.4,387.88 L100.1,387.84 L100.8,387.81 L101.5,387.77 L102.2,387.74 L103.0,387.70 L103.7,387.66 L104.4,387.62 L105.1,387.58 L105.8,387.55 L106.5,387.51 L107.2,387.47 L107.9,387.42 L108.6,387.38 L109.3,387.34 L110.0,387.30 L110.7,387.25 L111.4,387.21 L112.1,387.17 L112.9,387.12 L113.6,387.07 L114.3,387.03 L115.0,386.98 L115.7,386.93 L116.4,386.88 L117.1,386.83 L117.8,386.78 L118.5,386.73 L119.2,386.68 L119.9,386.63 L120.6,386.57 L121.3,386.52 L122.0,386.46 L122.8,386.41 L123.5,386.35 L124.2,386.29 L124.9,386.23 L125.6,386.17 L126.3,386.11 L127.0,386.05 L127.7,385.99 L128.4,385.93 L129.1,385.86 L129.8,385.80 L130.5,385.73 L131.2,385.66 L131.9,385.59 L132.7,385.52 L133.4,385.45 L134.1,385.38 L134.8,385.30 L135.5,385.23 L136.2,385.15 L136.9,385.07 L137.6,384.99 L138.3,384.91 L139.0,384.83 L139.7,384.75 L140.4,384.66 L141.1,384.57 L141.8,384.49 L142.6,384.40 L143.3,384.30 L144.0,384.21 L144.7,384.11 L145.4,384.02 L146.1,383.92 L146.8,383.82 L147.5,383.72 L148.2,383.61 L148.9,383.50 L149.6,383.39 L150.3,383.28 L151.0,383.17 L151.7,383.05 L152.5,382.94 L153.2,382.81 L153.9,382.69 L154.6,382.57 L155.3,382.44 L156.0,382.31 L156.7,382.17 L157.4,382.03 L158.1,381.89 L158.8,381.75 L159.5,381.60 L160.2,381.45 L160.9,381.30 L161.6,381.14 L162.4,380.98 L163.1,380.82 L163.8,380.65 L164.5,380.48 L165.2,380.30 L165.9,380.12 L166.6,379.93 L167.3,379.74 L168.0,379.54 L168.7,379.34 L169.4,379.14 L170.1,378.92 L170.8,378.70 L171.6,378.48 L172.3,378.25 L173.0,378.01 L173.7,377.77 L174.4,377.52 L175.1,377.26 L175.8,376.99 L176.5,376.72 L177.2,376.44 L177.9,376.14 L178.6,375.84 L179.3,375.53 L180.0,375.21 L180.7,374.88 L181.5,374.53 L182.2,374.18 L182.9,373.81 L183.6,373.42 L184.3,373.03 L185.0,372.62 L185.7,372.19 L186.4,371.74 L187.1,371.28 L187.8,370.80 L188.5,370.30 L189.2,369.78 L189.9,369.23 L190.6,368.67 L191.4,368.07 L192.1,367.45 L192.8,366.80 L193.5,366.11 L194.2,365.39 L194.9,364.64 L195.6,363.84 L196.3,363.01 L197.0,362.12 L197.7,361.19 L198.4,360.20 L199.1,359.15 L199.8,358.04 L200.5,356.85 L201.3,355.59 L202.0,354.24 L202.7,352.80 L203.4,351.26 L204.1,349.60 L204.8,347.81 L205.5,345.89 L206.2,343.81 L206.9,341.56 L207.6,339.12 L208.3,336.47 L209.0,333.59 L209.7,330.46 L210.4,327.06 L211.2,323.36 L211.9,319.36 L212.6,315.05 L213.3,310.43 L214.0,305.53 L214.7,300.41 L215.4,295.15 L216.1,289.85 L216.8,284.67 L217.5,279.78 L218.2,275.38 L218.9,271.65 L219.6,268.79 L220.3,266.92 L221.1,266.14 L221.8,266.50 L222.5,267.97 L223.2,270.49 L223.9,273.94 L224.6,278.17 L225.3,283.05 L226.0,288.39 L226.7,294.04 L227.4,299.87 L228.1,305.72 L228.8,311.50 L229.5,317.11 L230.2,322.49 L231.0,327.57 L231.7,332.33 L232.4,336.76 L233.1,340.83 L233.8,344.56 L234.5,347.95 L235.2,351.02 L235.9,353.78 L236.6,356.26 L237.3,358.47 L238.0,360.43 L238.7,362.17 L239.4,363.69 L240.1,365.02 L240.9,366.18 L241.6,367.17 L242.3,368.01 L243.0,368.71 L243.7,369.29 L244.4,369.75 L245.1,370.10 L245.8,370.34 L246.5,370.49 L247.2,370.55 L247.9,370.52 L248.6,370.41 L249.3,370.22 L250.0,369.95 L250.8,369.61 L251.5,369.19 L252.2,368.70 L252.9,368.13 L253.6,367.49 L254.3,366.77 L255.0,365.97 L255.7,365.09 L256.4,364.12 L257.1,363.07 L257.8,361.92 L258.5,360.67 L259.2,359.31 L260.0,357.84 L260.7,356.24 L261.4,354.51 L262.1,352.63 L262.8,350.58 L263.5,348.37 L264.2,345.95 L264.9,343.32 L265.6,340.46 L266.3,337.34 L267.0,333.92 L267.7,330.19 L268.4,326.12 L269.1,321.67 L269.9,316.83 L270.6,311.57 L271.3,305.89 L272.0,299.80 L272.7,293.34 L273.4,286.58 L274.1,279.64 L274.8,272.66 L275.5,265.86 L276.2,259.48 L276.9,253.76 L277.6,248.99 L278.3,245.39 L279.0,243.15 L279.8,242.40 L280.5,243.19 L281.2,245.48 L281.9,249.18 L282.6,254.13 L283.3,260.14 L284.0,267.00 L284.7,274.49 L285.4,282.40 L286.1,290.53 L286.8,298.70 L287.5,306.77 L288.2,314.62 L288.9,322.15 L289.7,329.31 L290.4,336.04 L291.1,342.32 L291.8,348.14 L292.5,353.52 L293.2,358.45 L293.9,362.96 L294.6,367.08 L295.3,370.84 L296.0,374.25 L296.7,377.34 L297.4,380.15 L298.1,382.70 L298.8,385.00 L299.6,387.09 L300.3,388.99 L301.0,390.71 L301.7,392.27 L302.4,393.68 L303.1,394.96 L303.8,396.13 L304.5,397.19 L305.2,398.15 L305.9,399.02 L306.6,399.82 L307.3,400.54 L308.0,401.20 L308.7,401.80 L309.5,402.35 L310.2,402.86 L310.9,403.31 L311.6,403.73 L312.3,404.11 L313.0,404.46 L313.7,404.78 L314.4,405.07 L315.1,405.34 L315.8,405.59 L316.5,405.81 L317.2,406.02 L317.9,406.21 L318.6,406.38 L319.4,406.54 L320.1,406.69 L320.8,406.82 L321.5,406.95 L322.2,407.06 L322.9,407.17 L323.6,407.27 L324.3,407.36 L325.0,407.44 L325.7,407.52 L326.4,407.59 L327.1,407.65 L327.8,407.71 L328.5,407.77 L329.3,407.82 L330.0,407.87 L330.7,407.92 L331.4,407.96 L332.1,408.00 L332.8,408.04 L333.5,408.07 L334.2,408.11 L334.9,408.14 L335.6,408.17 L336.3,408.20 L337.0,408.22 L337.7,408.25 L338.4,408.27 L339.2,408.29 L339.9,408.32 L340.6,408.34 L341.3,408.36 L342.0,408.38 L342.7,408.39 L343.4,408.41 L344.1,408.43 L344.8,408.45 L345.5,408.46 L346.2,408.48 L346.9,408.49 L347.6,408.51 L348.4,408.52 L349.1,408.54 L349.8,408.55 L350.5,408.57 L351.2,408.58 L351.9,408.59 L352.6,408.61 L353.3,408.62 L354.0,408.63 L354.7,408.65 L355.4,408.66 L356.1,408.67 L356.8,408.69 L357.5,408.70 L358.3,408.71 L359.0,408.72 L359.7,408.74 L360.4,408.75 L361.1,408.76 L361.8,408.77 L362.5,408.78 L363.2,408.80 L363.9,408.81 L364.6,408.82 L365.3,408.83 L366.0,408.84 L366.7,408.86 L367.4,408.87 L368.2,408.88 L368.9,408.89 L369.6,408.90 L370.3,408.91 L371.0,408.93 L371.7,408.94 L372.4,408.95 L373.1,408.96 L373.8,408.97 L374.5,408.98 L375.2,408.99 L375.9,409.01 L376.6,409.02 L377.3,409.03 L378.1,409.04 L378.8,409.05 L379.5,409.06 L380.2,409.07 L380.9,409.08 L381.6,409.10 L382.3,409.11 L383.0,409.12 L383.7,409.13 L384.4,409.14 L385.1,409.15 L385.8,409.16 L386.5,409.17 L387.2,409.19 L388.0,409.20 L388.7,409.21 L389.4,409.22 L390.1,409.23 L390.8,409.24 L391.5,409.25 L392.2,409.26 L392.9,409.27 L393.6,409.29 L394.3,409.30 L395.0,409.31 L395.7,409.32 L396.4,409.33 L397.1,409.34 L397.9,409.35 L398.6,409.36 L399.3,409.37 L400.0,409.38 L400.7,409.39 L401.4,409.41 L402.1,409.42 L402.8,409.43 L403.5,409.44 L404.2,409.45 L404.9,409.46 L405.6,409.47 L406.3,409.48 L407.0,409.49 L407.8,409.50 L408.5,409.51 L409.2,409.53 L409.9,409.54 L410.6,409.55 L411.3,409.56 L412.0,409.57 L412.7,409.58 L413.4,409.59 L414.1,409.60 L414.8,409.61 L415.5,409.62 L416.2,409.63 L416.9,409.64 L417.7,409.65 L418.4,409.66 L419.1,409.68 L419.8,409.69 L420.5,409.70 L421.2,409.71 L421.9,409.72 L422.6,409.73 L423.3,409.74 L424.0,409.75 L424.7,409.76 L425.4,409.77 L426.1,409.78 L426.8,409.79 L427.6,409.80 L428.3,409.81 L429.0,409.82 L429.7,409.84 L430.4,409.85 L431.1,409.86 L431.8,409.87 L432.5,409.88 L433.2,409.89 L433.9,409.90 L434.6,409.91 L435.3,409.92 L436.0,409.93 L436.8,409.94 L437.5,409.95 L438.2,409.96 L438.9,409.97 L439.6,409.98 L440.3,409.99 L441.0,410.00 L441.7,410.02 L442.4,410.03 L443.1,410.04 L443.8,410.05 L444.5,410.06 L445.2,410.07 L445.9,410.08 L446.7,410.09 L447.4,410.10 L448.1,410.11 L448.8,410.12 L449.5,410.13 L450.2,410.14 L450.9,410.15 L451.6,410.16 L452.3,410.17 L453.0,410.18 L453.7,410.19 L454.4,410.20 L455.1,410.21 L455.8,410.22 L456.6,410.24 L457.3,410.25 L458.0,410.26 L458.7,410.27 L459.4,410.28 L460.1,410.29 L460.8,410.30 L461.5,410.31 L462.2,410.32 L462.9,410.33 L463.6,410.34 L464.3,410.35 L465.0,410.36 L465.7,410.37 L466.5,410.38 L467.2,410.39 L467.9,410.40 L468.6,410.41 L469.3,410.42 L470.0,410.43 L470.7,410.44 L471.4,410.45 L472.1,410.46 L472.8,410.47 L473.5,410.48 L474.2,410.50 L474.9,410.51 L475.6,410.52 L476.4,410.53" stroke="#dc1414" stroke-width="2.5"/>
</g>
<path d="M34.0,547.2 L35.8,547.2 L37.5,546.6 L39.3,546.2 L41.1,546.2 L42.8,546.2 L44.6,546.0 L46.4,545.9 L48.1,545.9 L49.9,545.7 L51.7,545.5 L53.4,545.4 L55.2,545.1 L57.0,545.1 L58.8,545.4 L60.5,545.5 L62.3,545.3 L64.1,545.0 L65.8,545.1 L67.6,545.4 L69.4,545.3 L71.1,545.0 L72.9,544.8 L74.7,544.7 L76.4,544.5 L78.2,544.2 L80.0,544.4 L81.7,544.6 L83.5,544.7 L85.3,544.5 L87.0,544.2 L88.8,544.0 L90.6,543.9 L92.3,544.0 L94.1,544.2 L95.9,543.9 L97.6,543.4 L99.4,543.3 L101.2,543.4 L103.0,543.3 L104.7,542.9 L106.5,542.6 L108.3,542.7 L110.0,542.9 L111.8,543.1 L113.6,543.2 L115.3,543.2 L117.1,542.9 L118.9,542.8 L120.6,543.1 L122.4,543.4 L124.2,543.2 L125.9,543.0 L127.7,543.0 L129.5,543.0 L131.2,542.7 L133.0,542.7 L134.8,542.9 L136.5,542.9 L138.3,542.8 L140.1,542.7 L141.8,542.7 L143.6,542.6 L145.4,542.5 L147.2,542.4 L148.9,542.6 L150.7,542.7 L152.5,542.6 L154.2,542.6 L156.0,542.6 L157.8,542.5 L159.5,542.5 L161.3,542.7 L163.1,543.2 L164.8,543.6 L166.6,543.5 L168.4,543.1 L170.1,542.9 L171.9,542.9 L173.7,542.9 L175.4,542.9 L177.2,542.8 L179.0,542.8 L180.7,543.0 L182.5,543.0 L184.3,542.9 L186.0,542.7 L187.8,542.8 L189.6,542.9 L191.4,542.9 L193.1,542.7 L194.9,542.4 L196.7,542.3 L198.4,542.7 L200.2,542.9 L202.0,543.0 L203.7,543.0 L205.5,543.1 L207.3,542.9 L209.0,542.9 L210.8,543.1 L212.6,543.5 L214.3,544.2 L216.1,545.1 L217.9,545.3 L219.6,544.1 L221.4,543.2 L223.2,541.8 L224.9,540.3 L226.7,539.2 L228.5,539.3 L230.2,540.0 L232.0,540.5 L233.8,541.2 L235.6,541.9 L237.3,542.5 L239.1,542.7 L240.9,542.6 L242.6,542.5 L244.4,542.5 L246.2,542.6 L247.9,542.6 L249.7,542.6 L251.5,542.7 L253.2,542.9 L255.0,543.0 L256.8,543.1 L258.5,543.2 L260.3,543.1 L262.1,542.0 L263.8,540.6 L265.6,539.4 L267.4,539.0 L269.1,539.3 L270.9,539.0 L272.7,538.4 L274.4,538.4 L276.2,539.3 L278.0,540.3 L279.8,541.0 L281.5,541.6 L283.3,542.2 L285.1,542.9 L286.8,543.4 L288.6,543.7 L290.4,543.8 L292.1,544.1 L293.9,544.6 L295.7,544.2 L297.4,543.5 L299.2,542.8 L301.0,542.2 L302.7,541.6 L304.5,540.9 L306.3,540.4 L308.0,540.6 L309.8,541.0 L311.6,541.1 L313.3,541.1 L315.1,541.1 L316.9,541.1 L318.6,541.1 L320.4,541.2 L322.2,541.3 L324.0,541.1 L325.7,541.0 L327.5,541.1 L329.3,541.1 L331.0,541.2 L332.8,541.5 L334.6,541.6 L336.3,541.6 L338.1,541.7 L339.9,541.9 L341.6,542.1 L343.4,542.4 L345.2,542.7 L346.9,542.9 L348.7,542.9 L350.5,542.8 L352.2,542.4 L354.0,542.4 L355.8,542.6 L357.5,542.7 L359.3,542.6 L361.1,542.4 L362.8,542.2 L364.6,542.1 L366.4,542.1 L368.2,542.3 L369.9,542.4 L371.7,542.4 L373.5,542.5 L375.2,542.5 L377.0,542.1 L378.8,541.9 L380.5,541.9 L382.3,542.0 L384.1,542.4 L385.8,542.7 L387.6,542.7 L389.4,542.6 L391.1,542.5 L392.9,542.6 L394.7,542.6 L396.4,542.8 L398.2,543.1 L400.0,543.2 L401.7,543.0 L403.5,542.7 L405.3,542.6 L407.0,542.7 L408.8,542.8 L410.6,542.9 L412.4,543.0 L414.1,542.8 L415.9,542.5 L417.7,542.5 L419.4,542.7 L421.2,542.6 L423.0,542.4 L424.7,542.3 L426.5,542.4 L428.3,542.9 L430.0,543.3 L431.8,543.1 L433.6,542.6 L435.3,542.4 L437.1,542.6 L438.9,542.7 L440.6,542.6 L442.4,542.6 L444.2,542.9 L445.9,542.9 L447.7,542.6 L449.5,542.2 L451.2,542.0 L453.0,542.0 L454.8,542.1 L456.6,542.5 L458.3,542.7 L460.1,543.0 L461.9,543.3 L463.6,543.1 L465.4,542.8 L467.2,542.9 L468.9,542.9 L470.7,542.6 L472.5,542.4 L474.2,542.3 L476.0,542.4" fill="none" stroke="#dba520" stroke-width="2.3" stroke-linejoin="round"/>
<path d="M34,542.7 H476" fill="none" stroke="#595959" stroke-width="2" stroke-dasharray="8.2 8"/>
<path d="M28.4,752.2h7.6v5.6h-7.6zM30.2,756.5h7.6v5.6h-7.6zM32.0,754.7h7.6v5.6h-7.6zM33.7,752.5h7.6v5.6h-7.6zM35.5,754.6h7.6v5.6h-7.6zM37.3,755.3h7.6v5.6h-7.6zM39.0,755.7h7.6v5.6h-7.6zM40.8,755.8h7.6v5.6h-7.6zM42.6,754.9h7.6v5.6h-7.6zM44.3,754.6h7.6v5.6h-7.6zM46.1,752.6h7.6v5.6h-7.6zM47.9,753.5h7.6v5.6h-7.6zM49.6,753.2h7.6v5.6h-7.6zM51.4,753.7h7.6v5.6h-7.6zM53.2,752.2h7.6v5.6h-7.6zM55.0,753.0h7.6v5.6h-7.6zM56.7,752.4h7.6v5.6h-7.6zM58.5,751.4h7.6v5.6h-7.6zM60.3,752.6h7.6v5.6h-7.6zM62.0,752.6h7.6v5.6h-7.6zM63.8,752.6h7.6v5.6h-7.6zM65.6,752.2h7.6v5.6h-7.6zM67.3,751.5h7.6v5.6h-7.6zM69.1,751.0h7.6v5.6h-7.6zM70.9,749.3h7.6v5.6h-7.6zM72.6,751.0h7.6v5.6h-7.6zM74.4,748.2h7.6v5.6h-7.6zM76.2,749.7h7.6v5.6h-7.6zM77.9,751.0h7.6v5.6h-7.6zM79.7,751.5h7.6v5.6h-7.6zM81.5,752.7h7.6v5.6h-7.6zM83.2,752.5h7.6v5.6h-7.6zM85.0,753.8h7.6v5.6h-7.6zM86.8,751.5h7.6v5.6h-7.6zM88.5,753.1h7.6v5.6h-7.6zM90.3,753.8h7.6v5.6h-7.6zM92.1,751.1h7.6v5.6h-7.6zM93.8,751.4h7.6v5.6h-7.6zM95.6,748.5h7.6v5.6h-7.6zM97.4,746.9h7.6v5.6h-7.6zM99.2,747.3h7.6v5.6h-7.6zM100.9,749.8h7.6v5.6h-7.6zM102.7,749.5h7.6v5.6h-7.6zM104.5,746.9h7.6v5.6h-7.6zM106.2,748.7h7.6v5.6h-7.6zM108.0,749.1h7.6v5.6h-7.6zM109.8,747.8h7.6v5.6h-7.6zM111.5,745.9h7.6v5.6h-7.6zM113.3,746.6h7.6v5.6h-7.6zM115.1,747.5h7.6v5.6h-7.6zM116.8,747.1h7.6v5.6h-7.6zM118.6,746.9h7.6v5.6h-7.6zM120.4,748.2h7.6v5.6h-7.6zM122.1,748.3h7.6v5.6h-7.6zM123.9,746.1h7.6v5.6h-7.6zM125.7,746.2h7.6v5.6h-7.6zM127.4,744.5h7.6v5.6h-7.6zM129.2,744.0h7.6v5.6h-7.6zM131.0,741.4h7.6v5.6h-7.6zM132.7,744.9h7.6v5.6h-7.6zM134.5,743.8h7.6v5.6h-7.6zM136.3,743.5h7.6v5.6h-7.6zM138.0,742.5h7.6v5.6h-7.6zM139.8,741.7h7.6v5.6h-7.6zM141.6,743.5h7.6v5.6h-7.6zM143.4,744.0h7.6v5.6h-7.6zM145.1,745.1h7.6v5.6h-7.6zM146.9,744.2h7.6v5.6h-7.6zM148.7,742.3h7.6v5.6h-7.6zM150.4,742.1h7.6v5.6h-7.6zM152.2,742.5h7.6v5.6h-7.6zM154.0,740.9h7.6v5.6h-7.6zM155.7,739.6h7.6v5.6h-7.6zM157.5,738.4h7.6v5.6h-7.6zM159.3,738.9h7.6v5.6h-7.6zM161.0,737.6h7.6v5.6h-7.6zM162.8,738.0h7.6v5.6h-7.6zM164.6,735.7h7.6v5.6h-7.6zM166.3,731.2h7.6v5.6h-7.6zM168.1,734.3h7.6v5.6h-7.6zM169.9,731.5h7.6v5.6h-7.6zM171.6,730.2h7.6v5.6h-7.6zM173.4,729.8h7.6v5.6h-7.6zM175.2,729.0h7.6v5.6h-7.6zM176.9,726.7h7.6v5.6h-7.6zM178.7,724.6h7.6v5.6h-7.6zM180.5,722.6h7.6v5.6h-7.6zM182.2,723.4h7.6v5.6h-7.6zM184.0,721.3h7.6v5.6h-7.6zM185.8,721.9h7.6v5.6h-7.6zM187.6,720.8h7.6v5.6h-7.6zM189.3,717.1h7.6v5.6h-7.6zM191.1,713.1h7.6v5.6h-7.6zM192.9,708.7h7.6v5.6h-7.6zM194.6,704.9h7.6v5.6h-7.6zM196.4,696.2h7.6v5.6h-7.6zM198.2,688.2h7.6v5.6h-7.6zM199.9,679.9h7.6v5.6h-7.6zM201.7,672.4h7.6v5.6h-7.6zM203.5,666.1h7.6v5.6h-7.6zM205.2,656.7h7.6v5.6h-7.6zM207.0,644.2h7.6v5.6h-7.6zM208.8,635.0h7.6v5.6h-7.6zM210.5,623.5h7.6v5.6h-7.6zM212.3,615.6h7.6v5.6h-7.6zM214.1,608.1h7.6v5.6h-7.6zM215.8,601.8h7.6v5.6h-7.6zM217.6,598.4h7.6v5.6h-7.6zM219.4,600.4h7.6v5.6h-7.6zM221.1,607.6h7.6v5.6h-7.6zM222.9,619.1h7.6v5.6h-7.6zM224.7,633.8h7.6v5.6h-7.6zM226.4,651.0h7.6v5.6h-7.6zM228.2,668.5h7.6v5.6h-7.6zM230.0,682.1h7.6v5.6h-7.6zM231.8,695.3h7.6v5.6h-7.6zM233.5,704.6h7.6v5.6h-7.6zM235.3,708.8h7.6v5.6h-7.6zM237.1,714.5h7.6v5.6h-7.6zM238.8,719.1h7.6v5.6h-7.6zM240.6,720.5h7.6v5.6h-7.6zM242.4,722.3h7.6v5.6h-7.6zM244.1,722.1h7.6v5.6h-7.6zM245.9,718.5h7.6v5.6h-7.6zM247.7,717.6h7.6v5.6h-7.6zM249.4,716.3h7.6v5.6h-7.6zM251.2,709.9h7.6v5.6h-7.6zM253.0,704.3h7.6v5.6h-7.6zM254.7,700.1h7.6v5.6h-7.6zM256.5,693.4h7.6v5.6h-7.6zM258.3,684.8h7.6v5.6h-7.6zM260.0,673.9h7.6v5.6h-7.6zM261.8,661.2h7.6v5.6h-7.6zM263.6,646.4h7.6v5.6h-7.6zM265.3,632.5h7.6v5.6h-7.6zM267.1,617.6h7.6v5.6h-7.6zM268.9,602.5h7.6v5.6h-7.6zM270.6,590.2h7.6v5.6h-7.6zM272.4,583.0h7.6v5.6h-7.6zM274.2,574.2h7.6v5.6h-7.6zM276.0,573.8h7.6v5.6h-7.6zM277.7,581.7h7.6v5.6h-7.6zM279.5,593.3h7.6v5.6h-7.6zM281.3,612.1h7.6v5.6h-7.6zM283.0,634.6h7.6v5.6h-7.6zM284.8,656.6h7.6v5.6h-7.6zM286.6,680.6h7.6v5.6h-7.6zM288.3,701.6h7.6v5.6h-7.6zM290.1,718.0h7.6v5.6h-7.6zM291.9,732.1h7.6v5.6h-7.6zM293.6,744.6h7.6v5.6h-7.6zM295.4,754.4h7.6v5.6h-7.6zM297.2,757.3h7.6v5.6h-7.6zM298.9,760.6h7.6v5.6h-7.6zM300.7,763.2h7.6v5.6h-7.6zM302.5,762.7h7.6v5.6h-7.6zM304.2,765.6h7.6v5.6h-7.6zM306.0,766.4h7.6v5.6h-7.6zM307.8,768.2h7.6v5.6h-7.6zM309.5,765.5h7.6v5.6h-7.6zM311.3,769.2h7.6v5.6h-7.6zM313.1,771.2h7.6v5.6h-7.6zM314.8,769.2h7.6v5.6h-7.6zM316.6,770.9h7.6v5.6h-7.6zM318.4,770.7h7.6v5.6h-7.6zM320.2,770.7h7.6v5.6h-7.6zM321.9,771.4h7.6v5.6h-7.6zM323.7,772.6h7.6v5.6h-7.6zM325.5,769.6h7.6v5.6h-7.6zM327.2,770.6h7.6v5.6h-7.6zM329.0,772.4h7.6v5.6h-7.6zM330.8,771.3h7.6v5.6h-7.6zM332.5,770.1h7.6v5.6h-7.6zM334.3,770.2h7.6v5.6h-7.6zM336.1,773.0h7.6v5.6h-7.6zM337.8,770.7h7.6v5.6h-7.6zM339.6,772.5h7.6v5.6h-7.6zM341.4,772.8h7.6v5.6h-7.6zM343.1,772.9h7.6v5.6h-7.6zM344.9,771.4h7.6v5.6h-7.6zM346.7,771.8h7.6v5.6h-7.6zM348.4,774.6h7.6v5.6h-7.6zM350.2,775.8h7.6v5.6h-7.6zM352.0,775.2h7.6v5.6h-7.6zM353.7,773.6h7.6v5.6h-7.6zM355.5,772.9h7.6v5.6h-7.6zM357.3,772.7h7.6v5.6h-7.6zM359.0,775.1h7.6v5.6h-7.6zM360.8,772.3h7.6v5.6h-7.6zM362.6,774.3h7.6v5.6h-7.6zM364.4,775.3h7.6v5.6h-7.6zM366.1,776.0h7.6v5.6h-7.6zM367.9,777.2h7.6v5.6h-7.6zM369.7,775.6h7.6v5.6h-7.6zM371.4,772.1h7.6v5.6h-7.6zM373.2,775.3h7.6v5.6h-7.6zM375.0,774.1h7.6v5.6h-7.6zM376.7,776.7h7.6v5.6h-7.6zM378.5,777.3h7.6v5.6h-7.6zM380.3,778.9h7.6v5.6h-7.6zM382.0,779.7h7.6v5.6h-7.6zM383.8,778.8h7.6v5.6h-7.6zM385.6,778.7h7.6v5.6h-7.6zM387.3,777.6h7.6v5.6h-7.6zM389.1,778.3h7.6v5.6h-7.6zM390.9,777.8h7.6v5.6h-7.6zM392.6,776.7h7.6v5.6h-7.6zM394.4,778.5h7.6v5.6h-7.6zM396.2,777.6h7.6v5.6h-7.6zM397.9,777.1h7.6v5.6h-7.6zM399.7,775.7h7.6v5.6h-7.6zM401.5,776.1h7.6v5.6h-7.6zM403.2,777.4h7.6v5.6h-7.6zM405.0,776.3h7.6v5.6h-7.6zM406.8,778.0h7.6v5.6h-7.6zM408.6,777.7h7.6v5.6h-7.6zM410.3,777.7h7.6v5.6h-7.6zM412.1,776.0h7.6v5.6h-7.6zM413.9,778.3h7.6v5.6h-7.6zM415.6,779.6h7.6v5.6h-7.6zM417.4,778.9h7.6v5.6h-7.6zM419.2,780.1h7.6v5.6h-7.6zM420.9,778.8h7.6v5.6h-7.6zM422.7,781.7h7.6v5.6h-7.6zM424.5,781.1h7.6v5.6h-7.6zM426.2,783.4h7.6v5.6h-7.6zM428.0,782.1h7.6v5.6h-7.6zM429.8,784.6h7.6v5.6h-7.6zM431.5,784.3h7.6v5.6h-7.6zM433.3,785.6h7.6v5.6h-7.6zM435.1,783.6h7.6v5.6h-7.6zM436.8,783.3h7.6v5.6h-7.6zM438.6,785.5h7.6v5.6h-7.6zM440.4,783.2h7.6v5.6h-7.6zM442.1,783.0h7.6v5.6h-7.6zM443.9,783.0h7.6v5.6h-7.6zM445.7,782.1h7.6v5.6h-7.6zM447.4,782.8h7.6v5.6h-7.6zM449.2,782.0h7.6v5.6h-7.6zM451.0,779.3h7.6v5.6h-7.6zM452.8,778.3h7.6v5.6h-7.6zM454.5,780.8h7.6v5.6h-7.6zM456.3,780.7h7.6v5.6h-7.6zM458.1,779.7h7.6v5.6h-7.6zM459.8,779.4h7.6v5.6h-7.6zM461.6,777.7h7.6v5.6h-7.6zM463.4,778.1h7.6v5.6h-7.6zM465.1,776.8h7.6v5.6h-7.6zM466.9,776.3h7.6v5.6h-7.6zM468.7,777.8h7.6v5.6h-7.6zM470.4,776.5h7.6v5.6h-7.6zM472.2,779.2h7.6v5.6h-7.6z" fill="#000"/>
<g transform="scale(1,1.25)" fill="none" stroke-linejoin="round">
<path d="M33.6,605.06 L34.7,605.05 L35.8,605.04 L36.8,605.03 L37.9,605.02 L39.0,605.01 L40.0,604.99 L41.1,604.98 L42.1,604.97 L43.2,604.96 L44.3,604.95 L45.3,604.94 L46.4,604.93 L47.4,604.91 L48.5,604.90 L49.6,604.89 L50.6,604.88 L51.7,604.87 L52.7,604.85 L53.8,604.84 L54.9,604.83 L55.9,604.81 L57.0,604.80 L58.0,604.79 L59.1,604.78 L60.2,604.76 L61.2,604.75 L62.3,604.73 L63.3,604.72 L64.4,604.71 L65.5,604.69 L66.5,604.68 L67.6,604.66 L68.7,604.65 L69.7,604.63 L70.8,604.62 L71.8,604.60 L72.9,604.59 L74.0,604.57 L75.0,604.55 L76.1,604.54 L77.1,604.52 L78.2,604.51 L79.3,604.49 L80.3,604.47 L81.4,604.45 L82.4,604.44 L83.5,604.42 L84.6,604.40 L85.6,604.38 L86.7,604.37 L87.7,604.35 L88.8,604.33 L89.9,604.31 L90.9,604.29 L92.0,604.27 L93.1,604.25 L94.1,604.23 L95.2,604.21 L96.2,604.19 L97.3,604.17 L98.4,604.15 L99.4,604.13 L100.5,604.11 L101.5,604.08 L102.6,604.06 L103.7,604.04 L104.7,604.02 L105.8,603.99 L106.8,603.97 L107.9,603.95 L109.0,603.92 L110.0,603.90 L111.1,603.87 L112.1,603.85 L113.2,603.82 L114.3,603.80 L115.3,603.77 L116.4,603.75 L117.4,603.72 L118.5,603.69 L119.6,603.67 L120.6,603.64 L121.7,603.61 L122.8,603.58 L123.8,603.55 L124.9,603.52 L125.9,603.49 L127.0,603.46 L128.1,603.43 L129.1,603.40 L130.2,603.37 L131.2,603.34 L132.3,603.30 L133.4,603.27 L134.4,603.24 L135.5,603.20 L136.5,603.17 L137.6,603.13 L138.7,603.10 L139.7,603.06 L140.8,603.03 L141.8,602.99 L142.9,602.95 L144.0,602.91 L145.0,602.87 L146.1,602.83 L147.2,602.79 L148.2,602.75 L149.3,602.71 L150.3,602.67 L151.4,602.63 L152.5,602.58 L153.5,602.54 L154.6,602.49 L155.6,602.45 L156.7,602.40 L157.8,602.35 L158.8,602.31 L159.9,602.26 L160.9,602.21 L162.0,602.16 L163.1,602.11 L164.1,602.05 L165.2,602.00 L166.2,601.95 L167.3,601.89 L168.4,601.84 L169.4,601.78 L170.5,601.73 L171.6,601.67 L172.6,601.61 L173.7,601.55 L174.7,601.49 L175.8,601.43 L176.9,601.37 L177.9,601.30 L179.0,601.24 L180.0,601.17 L181.1,601.11 L182.2,601.04 L183.2,600.97 L184.3,600.91 L185.3,600.84 L186.4,600.77 L187.5,600.70 L188.5,600.63 L189.6,600.55 L190.6,600.48 L191.7,600.41 L192.8,600.33 L193.8,600.26 L194.9,600.19 L195.9,600.11 L197.0,600.04 L198.1,599.96 L199.1,599.89 L200.2,599.82 L201.3,599.75 L202.3,599.67 L203.4,599.60 L204.4,599.53 L205.5,599.47 L206.6,599.40 L207.6,599.34 L208.7,599.27 L209.7,599.21 L210.8,599.15 L211.9,599.10 L212.9,599.04 L214.0,598.98 L215.0,598.93 L216.1,598.87 L217.2,598.81 L218.2,598.75 L219.3,598.67 L220.3,598.59 L221.4,598.50 L222.5,598.40 L223.5,598.27 L224.6,598.13 L225.7,597.97 L226.7,597.79 L227.8,597.58 L228.8,597.34 L229.9,597.08 L231.0,596.78 L232.0,596.46 L233.1,596.10 L234.1,595.71 L235.2,595.27 L236.3,594.81 L237.3,594.30 L238.4,593.74 L239.4,593.15 L240.5,592.50 L241.6,591.80 L242.6,591.05 L243.7,590.24 L244.7,589.36 L245.8,588.41 L246.9,587.38 L247.9,586.27 L249.0,585.06 L250.0,583.74 L251.1,582.31 L252.2,580.75 L253.2,579.04 L254.3,577.16 L255.4,575.10 L256.4,572.82 L257.5,570.29 L258.5,567.48 L259.6,564.34 L260.7,560.84 L261.7,556.92 L262.8,552.52 L263.8,547.59 L264.9,542.08 L266.0,535.96 L267.0,529.21 L268.1,521.85 L269.1,513.96 L270.2,505.67 L271.3,497.19 L272.3,488.79 L273.4,480.81 L274.4,473.64 L275.5,467.66 L276.6,463.26 L277.6,460.73 L278.7,460.30 L279.8,462.06 L280.8,465.94 L281.9,471.80 L282.9,479.34 L284.0,488.22 L285.1,498.04 L286.1,508.42 L287.2,518.98 L288.2,529.40 L289.3,539.44 L290.4,548.90 L291.4,557.66 L292.5,565.66 L293.5,572.88 L294.6,579.32 L295.7,585.04 L296.7,590.07 L297.8,594.49 L298.8,598.35 L299.9,601.73 L301.0,604.67 L302.0,607.24 L303.1,609.48 L304.2,611.44 L305.2,613.15 L306.3,614.64 L307.3,615.95 L308.4,617.09 L309.5,618.10 L310.5,618.98 L311.6,619.76 L312.6,620.45 L313.7,621.05 L314.8,621.58 L315.8,622.05 L316.9,622.47 L317.9,622.84 L319.0,623.16 L320.1,623.45 L321.1,623.71 L322.2,623.93 L323.2,624.13 L324.3,624.31 L325.4,624.47 L326.4,624.62 L327.5,624.74 L328.5,624.86 L329.6,624.96 L330.7,625.05 L331.7,625.13 L332.8,625.20 L333.9,625.27 L334.9,625.33 L336.0,625.38 L337.0,625.43 L338.1,625.47 L339.2,625.51 L340.2,625.55 L341.3,625.58 L342.3,625.62 L343.4,625.64 L344.5,625.67 L345.5,625.70 L346.6,625.72 L347.6,625.74 L348.7,625.76 L349.8,625.78 L350.8,625.80 L351.9,625.81 L352.9,625.83 L354.0,625.85 L355.1,625.86 L356.1,625.88 L357.2,625.89 L358.3,625.90 L359.3,625.92 L360.4,625.93 L361.4,625.94 L362.5,625.95 L363.6,625.96 L364.6,625.97 L365.7,625.99 L366.7,626.00 L367.8,626.01 L368.9,626.02 L369.9,626.03 L371.0,626.04 L372.0,626.05 L373.1,626.06 L374.2,626.07 L375.2,626.08 L376.3,626.08 L377.3,626.09 L378.4,626.10 L379.5,626.11 L380.5,626.12" stroke="#1010e0" stroke-width="2.1"/>
<path d="M33.6,605.05 L34.7,605.04 L35.8,605.02 L36.8,605.01 L37.9,604.99 L39.0,604.98 L40.0,604.96 L41.1,604.94 L42.1,604.93 L43.2,604.91 L44.3,604.89 L45.3,604.88 L46.4,604.86 L47.4,604.84 L48.5,604.82 L49.6,604.80 L50.6,604.78 L51.7,604.77 L52.7,604.75 L53.8,604.73 L54.9,604.71 L55.9,604.69 L57.0,604.67 L58.0,604.65 L59.1,604.62 L60.2,604.60 L61.2,604.58 L62.3,604.56 L63.3,604.54 L64.4,604.51 L65.5,604.49 L66.5,604.47 L67.6,604.44 L68.7,604.42 L69.7,604.39 L70.8,604.37 L71.8,604.34 L72.9,604.32 L74.0,604.29 L75.0,604.26 L76.1,604.24 L77.1,604.21 L78.2,604.18 L79.3,604.15 L80.3,604.12 L81.4,604.09 L82.4,604.06 L83.5,604.03 L84.6,604.00 L85.6,603.97 L86.7,603.94 L87.7,603.90 L88.8,603.87 L89.9,603.83 L90.9,603.80 L92.0,603.76 L93.1,603.73 L94.1,603.69 L95.2,603.65 L96.2,603.61 L97.3,603.57 L98.4,603.53 L99.4,603.49 L100.5,603.45 L101.5,603.41 L102.6,603.36 L103.7,603.32 L104.7,603.27 L105.8,603.23 L106.8,603.18 L107.9,603.13 L109.0,603.08 L110.0,603.03 L111.1,602.98 L112.1,602.93 L113.2,602.87 L114.3,602.82 L115.3,602.76 L116.4,602.70 L117.4,602.65 L118.5,602.59 L119.6,602.52 L120.6,602.46 L121.7,602.40 L122.8,602.33 L123.8,602.26 L124.9,602.19 L125.9,602.12 L127.0,602.05 L128.1,601.97 L129.1,601.90 L130.2,601.82 L131.2,601.74 L132.3,601.65 L133.4,601.57 L134.4,601.48 L135.5,601.39 L136.5,601.30 L137.6,601.20 L138.7,601.10 L139.7,601.00 L140.8,600.90 L141.8,600.79 L142.9,600.68 L144.0,600.57 L145.0,600.45 L146.1,600.33 L147.2,600.20 L148.2,600.07 L149.3,599.94 L150.3,599.80 L151.4,599.66 L152.5,599.51 L153.5,599.36 L154.6,599.20 L155.6,599.04 L156.7,598.87 L157.8,598.69 L158.8,598.51 L159.9,598.32 L160.9,598.13 L162.0,597.92 L163.1,597.71 L164.1,597.49 L165.2,597.25 L166.2,597.01 L167.3,596.76 L168.4,596.50 L169.4,596.22 L170.5,595.94 L171.6,595.64 L172.6,595.32 L173.7,594.99 L174.7,594.64 L175.8,594.27 L176.9,593.89 L177.9,593.48 L179.0,593.05 L180.0,592.60 L181.1,592.12 L182.2,591.61 L183.2,591.07 L184.3,590.49 L185.3,589.88 L186.4,589.22 L187.5,588.52 L188.5,587.77 L189.6,586.96 L190.6,586.08 L191.7,585.14 L192.8,584.12 L193.8,583.02 L194.9,581.81 L195.9,580.49 L197.0,579.05 L198.1,577.46 L199.1,575.70 L200.2,573.75 L201.3,571.58 L202.3,569.17 L203.4,566.46 L204.4,563.43 L205.5,560.03 L206.6,556.23 L207.6,551.99 L208.7,547.29 L209.7,542.14 L210.8,536.57 L211.9,530.65 L212.9,524.51 L214.0,518.33 L215.0,512.34 L216.1,506.80 L217.2,502.00 L218.2,498.23 L219.3,495.75 L220.3,494.75 L221.4,495.34 L222.5,497.53 L223.5,501.25 L224.6,506.32 L225.7,512.52 L226.7,519.55 L227.8,527.14 L228.8,534.99 L229.9,542.84 L231.0,550.50 L232.0,557.79 L233.1,564.61 L234.1,570.87 L235.2,576.56 L236.3,581.67 L237.3,586.22 L238.4,590.25 L239.4,593.79 L240.5,596.90 L241.6,599.63 L242.6,602.02 L243.7,604.11 L244.7,605.94 L245.8,607.54 L246.9,608.95 L247.9,610.19 L249.0,611.28 L250.0,612.24 L251.1,613.09 L252.2,613.85 L253.2,614.53 L254.3,615.13 L255.4,615.67 L256.4,616.16 L257.5,616.60 L258.5,617.00 L259.6,617.37 L260.7,617.71 L261.7,618.02 L262.8,618.31 L263.8,618.59 L264.9,618.85 L266.0,619.09 L267.0,619.33 L268.1,619.56 L269.1,619.78 L270.2,620.00 L271.3,620.22 L272.3,620.43 L273.4,620.64 L274.4,620.85 L275.5,621.06 L276.6,621.26 L277.6,621.47 L278.7,621.67 L279.8,621.87 L280.8,622.06 L281.9,622.24 L282.9,622.43 L284.0,622.60 L285.1,622.77 L286.1,622.93 L287.2,623.08 L288.2,623.22 L289.3,623.36 L290.4,623.48 L291.4,623.60 L292.5,623.72 L293.5,623.83 L294.6,623.93 L295.7,624.02 L296.7,624.11 L297.8,624.19 L298.8,624.27 L299.9,624.35 L301.0,624.42 L302.0,624.49 L303.1,624.55 L304.2,624.61 L305.2,624.67 L306.3,624.72 L307.3,624.77 L308.4,624.82 L309.5,624.87 L310.5,624.91 L311.6,624.96 L312.6,625.00 L313.7,625.04 L314.8,625.07 L315.8,625.11 L316.9,625.14 L317.9,625.18 L319.0,625.21 L320.1,625.24 L321.1,625.27 L322.2,625.30 L323.2,625.33 L324.3,625.35 L325.4,625.38 L326.4,625.40 L327.5,625.43 L328.5,625.45 L329.6,625.47 L330.7,625.50 L331.7,625.52 L332.8,625.54 L333.9,625.56 L334.9,625.58 L336.0,625.60 L337.0,625.62 L338.1,625.63 L339.2,625.65 L340.2,625.67 L341.3,625.69 L342.3,625.70 L343.4,625.72 L344.5,625.73 L345.5,625.75 L346.6,625.76 L347.6,625.78 L348.7,625.79 L349.8,625.81 L350.8,625.82 L351.9,625.83 L352.9,625.85 L354.0,625.86 L355.1,625.87 L356.1,625.89 L357.2,625.90 L358.3,625.91 L359.3,625.92 L360.4,625.93 L361.4,625.94 L362.5,625.96 L363.6,625.97 L364.6,625.98 L365.7,625.99 L366.7,626.00 L367.8,626.01 L368.9,626.02 L369.9,626.03 L371.0,626.04 L372.0,626.05 L373.1,626.06 L374.2,626.07 L375.2,626.08 L376.3,626.08 L377.3,626.09 L378.4,626.10 L379.5,626.11 L380.5,626.12" stroke="#1010e0" stroke-width="2.1"/>
<path d="M33.6,608.06 L35.1,608.07 L36.5,608.07 L37.9,608.08 L39.3,608.09 L40.7,608.09 L42.1,608.10 L43.5,608.10 L45.0,608.11 L46.4,608.12 L47.8,608.12 L49.2,608.13 L50.6,608.14 L52.0,608.14 L53.4,608.15 L54.9,608.16 L56.3,608.16 L57.7,608.17 L59.1,608.18 L60.5,608.18 L61.9,608.19 L63.3,608.20 L64.8,608.20 L66.2,608.21 L67.6,608.22 L69.0,608.23 L70.4,608.23 L71.8,608.24 L73.2,608.25 L74.7,608.26 L76.1,608.26 L77.5,608.27 L78.9,608.28 L80.3,608.29 L81.7,608.30 L83.2,608.31 L84.6,608.31 L86.0,608.32 L87.4,608.33 L88.8,608.34 L90.2,608.35 L91.6,608.36 L93.1,608.37 L94.5,608.38 L95.9,608.39 L97.3,608.40 L98.7,608.40 L100.1,608.41 L101.5,608.42 L103.0,608.43 L104.4,608.45 L105.8,608.46 L107.2,608.47 L108.6,608.48 L110.0,608.49 L111.4,608.50 L112.9,608.51 L114.3,608.52 L115.7,608.53 L117.1,608.55 L118.5,608.56 L119.9,608.57 L121.3,608.58 L122.8,608.60 L124.2,608.61 L125.6,608.62 L127.0,608.64 L128.4,608.65 L129.8,608.67 L131.2,608.68 L132.7,608.70 L134.1,608.71 L135.5,608.73 L136.9,608.75 L138.3,608.76 L139.7,608.78 L141.1,608.80 L142.6,608.82 L144.0,608.83 L145.4,608.85 L146.8,608.87 L148.2,608.89 L149.6,608.92 L151.0,608.94 L152.5,608.96 L153.9,608.98 L155.3,609.01 L156.7,609.03 L158.1,609.06 L159.5,609.08 L160.9,609.11 L162.4,609.14 L163.8,609.17 L165.2,609.20 L166.6,609.23 L168.0,609.26 L169.4,609.30 L170.8,609.33 L172.3,609.37 L173.7,609.41 L175.1,609.45 L176.5,609.50 L177.9,609.54 L179.3,609.59 L180.7,609.64 L182.2,609.69 L183.6,609.75 L185.0,609.81 L186.4,609.87 L187.8,609.94 L189.2,610.01 L190.6,610.09 L192.1,610.17 L193.5,610.25 L194.9,610.35 L196.3,610.45 L197.7,610.55 L199.1,610.67 L200.5,610.80 L202.0,610.93 L203.4,611.08 L204.8,611.23 L206.2,611.41 L207.6,611.59 L209.0,611.79 L210.4,612.01 L211.9,612.24 L213.3,612.49 L214.7,612.76 L216.1,613.04 L217.5,613.33 L218.9,613.63 L220.3,613.94 L221.8,614.25 L223.2,614.56 L224.6,614.86 L226.0,615.15 L227.4,615.43 L228.8,615.70 L230.2,615.96 L231.7,616.19 L233.1,616.42 L234.5,616.63 L235.9,616.83 L237.3,617.01 L238.7,617.19 L240.1,617.35 L241.6,617.51 L243.0,617.66 L244.4,617.80 L245.8,617.94 L247.2,618.08 L248.6,618.21 L250.0,618.34 L251.5,618.46 L252.9,618.59 L254.3,618.72 L255.7,618.85 L257.1,618.98 L258.5,619.12 L260.0,619.25 L261.4,619.40 L262.8,619.55 L264.2,619.71 L265.6,619.87 L267.0,620.05 L268.4,620.23 L269.9,620.42 L271.3,620.63 L272.7,620.84 L274.1,621.06 L275.5,621.29 L276.9,621.52 L278.3,621.76 L279.8,621.99 L281.2,622.22 L282.6,622.45 L284.0,622.67 L285.4,622.88 L286.8,623.07 L288.2,623.26 L289.7,623.43 L291.1,623.59 L292.5,623.74 L293.9,623.88 L295.3,624.00 L296.7,624.12 L298.1,624.23 L299.6,624.33 L301.0,624.42 L302.4,624.51 L303.8,624.59 L305.2,624.67 L306.6,624.74 L308.0,624.81 L309.5,624.87 L310.9,624.93 L312.3,624.98 L313.7,625.04 L315.1,625.09 L316.5,625.13 L317.9,625.18 L319.4,625.22 L320.8,625.26 L322.2,625.30 L323.6,625.34 L325.0,625.37 L326.4,625.40 L327.8,625.44 L329.3,625.47 L330.7,625.50 L332.1,625.52 L333.5,625.55 L334.9,625.58 L336.3,625.60 L337.7,625.63 L339.2,625.65 L340.6,625.67 L342.0,625.70 L343.4,625.72 L344.8,625.74 L346.2,625.76 L347.6,625.78 L349.1,625.80 L350.5,625.82 L351.9,625.83 L353.3,625.85 L354.7,625.87 L356.1,625.89 L357.5,625.90 L359.0,625.92 L360.4,625.93 L361.8,625.95 L363.2,625.96 L364.6,625.98 L366.0,625.99 L367.4,626.00 L368.9,626.02 L370.3,626.03 L371.7,626.04 L373.1,626.06 L374.5,626.07 L375.9,626.08 L377.3,626.09 L378.8,626.11 L380.2,626.12" stroke="#2fd62f" stroke-width="2.0"/>
</g>
<path d="M304.5,766.0 L306.3,765.5 L308.0,768.4 L309.8,769.2 L311.6,771.0 L313.3,768.3 L315.1,772.0 L316.9,774.0 L318.6,772.0 L320.4,773.7 L322.2,773.5 L324.0,773.5 L325.7,774.2 L327.5,775.4 L329.3,772.4 L331.0,773.4 L332.8,775.2 L334.6,774.1 L336.3,772.9 L338.1,773.0 L339.9,775.8 L341.6,773.5 L343.4,775.3 L345.2,775.6 L346.9,775.7 L348.7,774.2 L350.5,774.6 L352.2,777.4 L354.0,778.6 L355.8,778.0 L357.5,776.4 L359.3,775.7 L361.1,775.5 L362.8,777.9 L364.6,775.1 L366.4,777.1 L368.2,778.1 L369.9,778.8 L371.7,780.0 L373.5,778.4 L375.2,774.9 L377.0,778.1 L378.8,776.9 L380.5,779.5" fill="none" stroke="#0a0a8c" stroke-width="2" stroke-linejoin="round"/>
<g transform="scale(1,1.25)" fill="none" stroke-linejoin="round"><path d="M33.6,602.05 L34.4,602.03 L35.1,602.01 L35.8,601.99 L36.5,601.97 L37.2,601.95 L37.9,601.93 L38.6,601.91 L39.3,601.89 L40.0,601.87 L40.7,601.84 L41.4,601.82 L42.1,601.80 L42.8,601.78 L43.5,601.76 L44.3,601.74 L45.0,601.71 L45.7,601.69 L46.4,601.67 L47.1,601.64 L47.8,601.62 L48.5,601.60 L49.2,601.57 L49.9,601.55 L50.6,601.53 L51.3,601.50 L52.0,601.48 L52.7,601.45 L53.4,601.43 L54.2,601.40 L54.9,601.38 L55.6,601.35 L56.3,601.33 L57.0,601.30 L57.7,601.28 L58.4,601.25 L59.1,601.22 L59.8,601.20 L60.5,601.17 L61.2,601.14 L61.9,601.12 L62.6,601.09 L63.3,601.06 L64.1,601.03 L64.8,601.00 L65.5,600.97 L66.2,600.95 L66.9,600.92 L67.6,600.89 L68.3,600.86 L69.0,600.83 L69.7,600.80 L70.4,600.77 L71.1,600.73 L71.8,600.70 L72.5,600.67 L73.2,600.64 L74.0,600.61 L74.7,600.58 L75.4,600.54 L76.1,600.51 L76.8,600.48 L77.5,600.44 L78.2,600.41 L78.9,600.37 L79.6,600.34 L80.3,600.31 L81.0,600.27 L81.7,600.23 L82.4,600.20 L83.2,600.16 L83.9,600.12 L84.6,600.09 L85.3,600.05 L86.0,600.01 L86.7,599.97 L87.4,599.94 L88.1,599.90 L88.8,599.86 L89.5,599.82 L90.2,599.78 L90.9,599.74 L91.6,599.69 L92.3,599.65 L93.1,599.61 L93.8,599.57 L94.5,599.52 L95.2,599.48 L95.9,599.44 L96.6,599.39 L97.3,599.35 L98.0,599.30 L98.7,599.26 L99.4,599.21 L100.1,599.16 L100.8,599.11 L101.5,599.07 L102.2,599.02 L103.0,598.97 L103.7,598.92 L104.4,598.87 L105.1,598.82 L105.8,598.77 L106.5,598.71 L107.2,598.66 L107.9,598.61 L108.6,598.55 L109.3,598.50 L110.0,598.44 L110.7,598.39 L111.4,598.33 L112.1,598.27 L112.9,598.21 L113.6,598.15 L114.3,598.09 L115.0,598.03 L115.7,597.97 L116.4,597.91 L117.1,597.85 L117.8,597.78 L118.5,597.72 L119.2,597.65 L119.9,597.59 L120.6,597.52 L121.3,597.45 L122.0,597.38 L122.8,597.31 L123.5,597.24 L124.2,597.17 L124.9,597.10 L125.6,597.02 L126.3,596.95 L127.0,596.87 L127.7,596.79 L128.4,596.72 L129.1,596.64 L129.8,596.55 L130.5,596.47 L131.2,596.39 L131.9,596.30 L132.7,596.22 L133.4,596.13 L134.1,596.04 L134.8,595.95 L135.5,595.86 L136.2,595.77 L136.9,595.67 L137.6,595.58 L138.3,595.48 L139.0,595.38 L139.7,595.28 L140.4,595.18 L141.1,595.08 L141.8,594.97 L142.6,594.86 L143.3,594.75 L144.0,594.64 L144.7,594.53 L145.4,594.41 L146.1,594.30 L146.8,594.18 L147.5,594.05 L148.2,593.93 L148.9,593.80 L149.6,593.67 L150.3,593.54 L151.0,593.41 L151.7,593.27 L152.5,593.13 L153.2,592.99 L153.9,592.85 L154.6,592.70 L155.3,592.55 L156.0,592.40 L156.7,592.24 L157.4,592.08 L158.1,591.91 L158.8,591.75 L159.5,591.58 L160.2,591.40 L160.9,591.22 L161.6,591.04 L162.4,590.85 L163.1,590.66 L163.8,590.46 L164.5,590.26 L165.2,590.06 L165.9,589.85 L166.6,589.63 L167.3,589.41 L168.0,589.18 L168.7,588.95 L169.4,588.71 L170.1,588.46 L170.8,588.21 L171.6,587.95 L172.3,587.68 L173.0,587.41 L173.7,587.13 L174.4,586.84 L175.1,586.54 L175.8,586.23 L176.5,585.91 L177.2,585.58 L177.9,585.24 L178.6,584.89 L179.3,584.53 L180.0,584.16 L180.7,583.77 L181.5,583.37 L182.2,582.96 L182.9,582.53 L183.6,582.08 L184.3,581.62 L185.0,581.14 L185.7,580.64 L186.4,580.11 L187.1,579.57 L187.8,579.01 L188.5,578.42 L189.2,577.80 L189.9,577.15 L190.6,576.48 L191.4,575.77 L192.1,575.03 L192.8,574.25 L193.5,573.43 L194.2,572.56 L194.9,571.65 L195.6,570.69 L196.3,569.67 L197.0,568.59 L197.7,567.44 L198.4,566.22 L199.1,564.92 L199.8,563.53 L200.5,562.05 L201.3,560.47 L202.0,558.77 L202.7,556.94 L203.4,554.99 L204.1,552.88 L204.8,550.61 L205.5,548.18 L206.2,545.56 L206.9,542.74 L207.6,539.73 L208.3,536.51 L209.0,533.08 L209.7,529.45 L210.4,525.63 L211.2,521.64 L211.9,517.50 L212.6,513.27 L213.3,508.98 L214.0,504.69 L214.7,500.49 L215.4,496.44 L216.1,492.63 L216.8,489.15 L217.5,486.08 L218.2,483.50 L218.9,481.49 L219.6,480.11 L220.3,479.40 L221.1,479.40 L221.8,480.11 L222.5,481.52 L223.2,483.61 L223.9,486.32 L224.6,489.60 L225.3,493.37 L226.0,497.55 L226.7,502.05 L227.4,506.79 L228.1,511.67 L228.8,516.63 L229.5,521.58 L230.2,526.46 L231.0,531.21 L231.7,535.79 L232.4,540.16 L233.1,544.29 L233.8,548.16 L234.5,551.77 L235.2,555.11 L235.9,558.17 L236.6,560.97 L237.3,563.50 L238.0,565.79 L238.7,567.84 L239.4,569.67 L240.1,571.28 L240.9,572.70 L241.6,573.93 L242.3,574.98 L243.0,575.87 L243.7,576.61 L244.4,577.21 L245.1,577.67 L245.8,578.01 L246.5,578.22 L247.2,578.32 L247.9,578.31 L248.6,578.19 L249.3,577.97 L250.0,577.65 L250.8,577.22 L251.5,576.70 L252.2,576.07 L252.9,575.35 L253.6,574.51 L254.3,573.57 L255.0,572.52 L255.7,571.35 L256.4,570.06 L257.1,568.64 L257.8,567.08 L258.5,565.36 L259.2,563.49 L260.0,561.45 L260.7,559.22 L261.4,556.80 L262.1,554.15 L262.8,551.28 L263.5,548.16 L264.2,544.79 L264.9,541.14 L265.6,537.21 L266.3,532.99 L267.0,528.49 L267.7,523.71 L268.4,518.68 L269.1,513.42 L269.9,507.97 L270.6,502.40 L271.3,496.78 L272.0,491.19 L272.7,485.73 L273.4,480.50 L274.1,475.63 L274.8,471.24 L275.5,467.43 L276.2,464.32 L276.9,462.00 L277.6,460.56 L278.3,460.05 L279.0,460.50 L279.8,461.93 L280.5,464.30 L281.2,467.58 L281.9,471.70 L282.6,476.57 L283.3,482.09 L284.0,488.15 L284.7,494.63 L285.4,501.40 L286.1,508.37 L286.8,515.41 L287.5,522.44 L288.2,529.36 L288.9,536.12 L289.7,542.63 L290.4,548.87 L291.1,554.80 L291.8,560.40 L292.5,565.65 L293.2,570.54 L293.9,575.10 L294.6,579.31 L295.3,583.20 L296.0,586.78 L296.7,590.06 L297.4,593.07 L298.1,595.83 L298.8,598.35 L299.6,600.65 L300.3,602.75 L301.0,604.67 L301.7,606.42 L302.4,608.02 L303.1,609.48 L303.8,610.81 L304.5,612.03 L305.2,613.14 L305.9,614.16 L306.6,615.09 L307.3,615.95 L308.0,616.73 L308.7,617.44 L309.5,618.10 L310.2,618.70 L310.9,619.25 L311.6,619.76 L312.3,620.23 L313.0,620.66 L313.7,621.05 L314.4,621.41 L315.1,621.74 L315.8,622.05 L316.5,622.33 L317.2,622.60 L317.9,622.84 L318.6,623.06 L319.4,623.26 L320.1,623.45 L320.8,623.62 L321.5,623.78 L322.2,623.93 L322.9,624.07 L323.6,624.20 L324.3,624.31 L325.0,624.42 L325.7,624.52 L326.4,624.62 L327.1,624.70 L327.8,624.78 L328.5,624.86 L329.3,624.92 L330.0,624.99 L330.7,625.05 L331.4,625.10 L332.1,625.15 L332.8,625.20 L333.5,625.25 L334.2,625.29 L334.9,625.33 L335.6,625.36 L336.3,625.40 L337.0,625.43 L337.7,625.46 L338.4,625.49 L339.2,625.51 L339.9,625.54 L340.6,625.56 L341.3,625.58 L342.0,625.61 L342.7,625.63 L343.4,625.64 L344.1,625.66 L344.8,625.68 L345.5,625.70 L346.2,625.71 L346.9,625.73 L347.6,625.74 L348.4,625.75 L349.1,625.77 L349.8,625.78 L350.5,625.79 L351.2,625.80 L351.9,625.81 L352.6,625.83 L353.3,625.84 L354.0,625.85 L354.7,625.86 L355.4,625.87 L356.1,625.88 L356.8,625.88 L357.5,625.89 L358.3,625.90 L359.0,625.91 L359.7,625.92 L360.4,625.93 L361.1,625.94 L361.8,625.94 L362.5,625.95 L363.2,625.96 L363.9,625.97 L364.6,625.97 L365.3,625.98 L366.0,625.99 L366.7,626.00 L367.4,626.00 L368.2,626.01 L368.9,626.02 L369.6,626.02 L370.3,626.03 L371.0,626.04 L371.7,626.04 L372.4,626.05 L373.1,626.06 L373.8,626.06 L374.5,626.07 L375.2,626.08 L375.9,626.08 L376.6,626.09 L377.3,626.09 L378.1,626.10 L378.8,626.10 L379.5,626.11 L380.2,626.12 L380.9,626.12" stroke="#dc1414" stroke-width="2.5"/></g>
<path d="M34.0,805.5 L35.8,803.9 L37.5,801.7 L39.3,803.8 L41.1,804.6 L42.8,805.1 L44.6,805.2 L46.4,804.4 L48.1,804.2 L49.9,802.3 L51.7,803.2 L53.4,803.0 L55.2,803.6 L57.0,802.1 L58.8,803.0 L60.5,802.5 L62.3,801.7 L64.1,802.9 L65.8,803.0 L67.6,803.0 L69.4,802.8 L71.1,802.2 L72.9,801.7 L74.7,800.2 L76.4,802.0 L78.2,799.3 L80.0,800.9 L81.7,802.3 L83.5,802.9 L85.3,804.2 L87.0,804.2 L88.8,805.6 L90.6,803.5 L92.3,805.1 L94.1,806.0 L95.9,803.4 L97.6,803.9 L99.4,801.1 L101.2,799.6 L103.0,800.2 L104.7,802.9 L106.5,802.7 L108.3,800.3 L110.0,802.3 L111.8,802.8 L113.6,801.7 L115.3,800.0 L117.1,800.9 L118.9,802.0 L120.6,801.8 L122.4,801.8 L124.2,803.3 L125.9,803.6 L127.7,801.8 L129.5,802.1 L131.2,800.6 L133.0,800.3 L134.8,798.1 L136.5,801.8 L138.3,801.1 L140.1,801.1 L141.8,800.4 L143.6,799.9 L145.4,802.0 L147.2,803.0 L148.9,804.4 L150.7,804.0 L152.5,802.4 L154.2,802.8 L156.0,803.6 L157.8,802.5 L159.5,801.8 L161.3,801.1 L163.1,802.2 L164.8,801.5 L166.6,802.5 L168.4,801.0 L170.1,797.2 L171.9,801.2 L173.7,799.2 L175.4,798.8 L177.2,799.4 L179.0,799.7 L180.7,798.5 L182.5,797.8 L184.3,797.1 L186.0,799.6 L187.8,799.2 L189.6,801.7 L191.4,802.7 L193.1,801.4 L194.9,800.2 L196.7,798.8 L198.4,798.7 L200.2,794.3 L202.0,791.4 L203.7,789.1 L205.5,788.8 L207.3,791.2 L209.0,791.9 L210.8,791.3 L212.6,795.0 L214.3,796.9 L216.1,801.4 L217.9,803.8 L219.6,803.3 L221.4,800.4 L223.2,797.5 L224.9,794.9 L226.7,793.2 L228.5,792.7 L230.2,794.5 L232.0,797.6 L233.8,798.4 L235.6,801.1 L237.3,801.8 L239.1,799.4 L240.9,800.3 L242.6,801.4 L244.4,800.6 L246.2,801.3 L247.9,800.9 L249.7,797.8 L251.5,798.3 L253.2,799.3 L255.0,795.8 L256.8,794.2 L258.5,795.0 L260.3,794.5 L262.1,793.7 L263.8,792.3 L265.6,791.3 L267.4,790.3 L269.1,792.3 L270.9,794.7 L272.7,796.9 L274.4,800.0 L276.2,804.2 L278.0,800.6 L279.8,798.0 L281.5,796.4 L283.3,792.3 L285.1,791.2 L286.8,791.9 L288.6,792.3 L290.4,796.1 L292.1,799.4 L293.9,800.7 L295.7,802.4 L297.4,804.9 L299.2,806.6 L301.0,803.1 L302.7,801.2 L304.5,799.7 L306.3,796.5 L308.0,794.1 L309.8,795.4 L311.6,795.7 L313.3,791.6 L315.1,793.8 L316.9,794.1 L318.6,791.8 L320.4,791.0 L322.2,792.1 L324.0,790.6 L325.7,792.1 L327.5,792.7 L329.3,791.5 L331.0,790.9 L332.8,792.5 L334.6,791.5 L336.3,792.2 L338.1,789.1 L339.9,793.0 L341.6,790.7 L343.4,792.3 L345.2,792.6 L346.9,791.9 L348.7,792.1 L350.5,792.1 L352.2,793.6 L354.0,794.9 L355.8,794.9 L357.5,793.4 L359.3,793.0 L361.1,792.0 L362.8,793.1 L364.6,792.5 L366.4,791.9 L368.2,793.5 L369.9,795.5 L371.7,795.5 L373.5,796.0 L375.2,792.8 L377.0,795.6 L378.8,793.4 L380.5,796.0 L382.3,798.8 L384.1,798.8 L385.8,798.8 L387.6,798.8 L389.4,798.8 L391.1,798.8 L392.9,798.8 L394.7,798.8 L396.4,798.8 L398.2,798.8 L400.0,798.8 L401.7,798.8 L403.5,798.8 L405.3,798.8 L407.0,798.8 L408.8,798.8 L410.6,798.8 L412.4,798.8 L414.1,798.8 L415.9,798.8 L417.7,798.8 L419.4,798.8 L421.2,798.8 L423.0,798.8 L424.7,798.8 L426.5,798.8 L428.3,798.8 L430.0,798.8 L431.8,798.8 L433.6,798.8 L435.3,798.8 L437.1,798.8 L438.9,798.8 L440.6,798.8 L442.4,798.8 L444.2,798.8 L445.9,798.8 L447.7,798.8 L449.5,798.8 L451.2,798.8 L453.0,798.8 L454.8,798.8 L456.6,798.8 L458.3,798.8 L460.1,798.8 L461.9,798.8 L463.6,798.8 L465.4,798.8 L467.2,798.8 L468.9,798.8 L470.7,798.8 L472.5,798.8 L474.2,798.8 L476.0,798.8" fill="none" stroke="#dba520" stroke-width="2.3" stroke-linejoin="round"/>
<path d="M34,798.8 H476" fill="none" stroke="#595959" stroke-width="2" stroke-dasharray="8.2 8"/>
<rect x="33.75" y="2.5" width="442" height="824.5" fill="none" stroke="#000" stroke-width="1.4"/>
<path d="M33.75,827v7.2M77.95,827v4.5M122.15,827v7.2M166.35,827v4.5M210.55,827v7.2M254.75,827v4.5M298.95,827v7.2M343.15,827v4.5M387.35,827v7.2M431.55,827v4.5M475.75,827v7.2" stroke="#000" stroke-width="1.4" fill="none"/>
<text x="34.3" y="853.1" font-size="16.9" text-anchor="middle" font-family="'Liberation Sans', Arial, sans-serif" fill="#000">85</text>
<text x="122.7" y="853.1" font-size="16.9" text-anchor="middle" font-family="'Liberation Sans', Arial, sans-serif" fill="#000">80</text>
<text x="211.1" y="853.1" font-size="16.9" text-anchor="middle" font-family="'Liberation Sans', Arial, sans-serif" fill="#000">75</text>
<text x="299.5" y="853.1" font-size="16.9" text-anchor="middle" font-family="'Liberation Sans', Arial, sans-serif" fill="#000">70</text>
<text x="387.9" y="853.1" font-size="16.9" text-anchor="middle" font-family="'Liberation Sans', Arial, sans-serif" fill="#000">65</text>
<text x="476.3" y="853.1" font-size="16.9" text-anchor="middle" font-family="'Liberation Sans', Arial, sans-serif" fill="#000">60</text>
<text x="249" y="881.7" font-size="18.65" font-weight="bold" text-anchor="middle" font-family="'Liberation Sans', Arial, sans-serif" fill="#000">Binding Energy (eV)</text>
<text transform="translate(16.6,474.6) rotate(-90) scale(1.026,1)" font-size="18.8" font-weight="bold" text-anchor="middle" font-family="'Liberation Sans', Arial, sans-serif" fill="#000">Intensity (arb. units)</text>
<text transform="translate(171,70.4) scale(1.075,1)" font-size="25.8" font-family="'Liberation Sans', Arial, sans-serif" fill="#000">Pt 4f</text>
<text transform="translate(228.8,77) scale(1.1,1)" font-size="17" font-family="'Liberation Sans', Arial, sans-serif" fill="#000">5/2</text>
<text transform="translate(256,45.4) scale(1.075,1)" font-size="25.8" font-family="'Liberation Sans', Arial, sans-serif" fill="#000">Pt 4f</text>
<text transform="translate(314.8,52.4) scale(1.1,1)" font-size="17" font-family="'Liberation Sans', Arial, sans-serif" fill="#000">7/2</text>
<text transform="translate(484.2,268.7) scale(1.06,1)" font-size="27" font-family="'Liberation Sans', Arial, sans-serif" fill="#000">(a)</text>
<text transform="translate(483.4,522.8) scale(1.06,1)" font-size="27" font-family="'Liberation Sans', Arial, sans-serif" fill="#000">(b)</text>
<text transform="translate(485.3,788.4) scale(1.06,1)" font-size="27" font-family="'Liberation Sans', Arial, sans-serif" fill="#000">(c)</text>
<text transform="translate(374.4,243.2) scale(1.155,1)" font-size="21.6" font-family="'Liberation Sans', Arial, sans-serif" fill="#000">Pt@TiO</text><text transform="translate(460.79999999999995,249.6) scale(1.1,1)" font-size="14.5" font-family="'Liberation Sans', Arial, sans-serif" fill="#000">2</text>
<text transform="translate(374.8,763.3) scale(1.155,1)" font-size="21.6" font-family="'Liberation Sans', Arial, sans-serif" fill="#000">Pt@TiO</text><text transform="translate(461.20000000000005,769.6999999999999) scale(1.1,1)" font-size="14.5" font-family="'Liberation Sans', Arial, sans-serif" fill="#000">2</text>
<text transform="translate(331.8,503.1) scale(1.06,1)" font-size="24" font-family="'Liberation Sans', Arial, sans-serif" fill="#000">Pt reference</text>
</svg>
</body></html>
